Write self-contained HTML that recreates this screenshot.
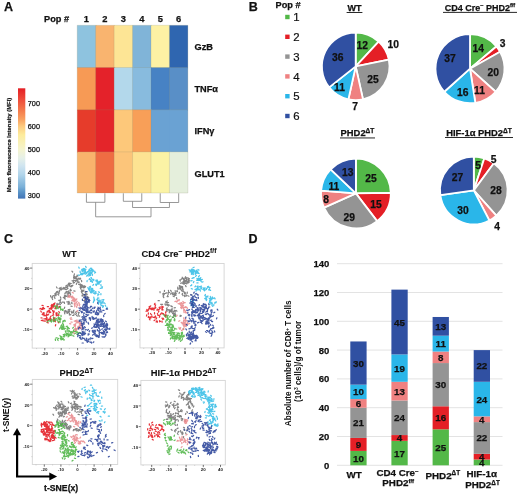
<!DOCTYPE html>
<html><head><meta charset="utf-8"><style>html,body{margin:0;padding:0;background:#fff;width:520px;height:495px;overflow:hidden}svg{display:block;filter:blur(0.35px)}</style></head>
<body><svg width="520" height="495" viewBox="0 0 520 495" font-family="&quot;Liberation Sans&quot;, sans-serif">
<text x="4" y="11" font-size="12.5" font-weight="bold" text-anchor="start" fill="#111"  stroke="#111" stroke-width="0.25">A</text>
<text x="248.8" y="11" font-size="12.5" font-weight="bold" text-anchor="start" fill="#111"  stroke="#111" stroke-width="0.25">B</text>
<text x="4" y="243" font-size="12.5" font-weight="bold" text-anchor="start" fill="#111"  stroke="#111" stroke-width="0.25">C</text>
<text x="248.5" y="243" font-size="12.5" font-weight="bold" text-anchor="start" fill="#111"  stroke="#111" stroke-width="0.25">D</text>
<rect x="77.20" y="25.30" width="19.45" height="43.20" fill="#8ec3df"/>
<rect x="95.65" y="25.30" width="19.45" height="43.20" fill="#f9b46f"/>
<rect x="114.10" y="25.30" width="19.45" height="43.20" fill="#fde595"/>
<rect x="132.55" y="25.30" width="19.45" height="43.20" fill="#80b4d8"/>
<rect x="151.00" y="25.30" width="19.45" height="43.20" fill="#fdf1a4"/>
<rect x="169.45" y="25.30" width="18.45" height="43.20" fill="#2f66b0"/>
<rect x="77.20" y="67.50" width="19.45" height="43.25" fill="#f79a55"/>
<rect x="95.65" y="67.50" width="19.45" height="43.25" fill="#e4222a"/>
<rect x="114.10" y="67.50" width="19.45" height="43.25" fill="#b3d8eb"/>
<rect x="132.55" y="67.50" width="19.45" height="43.25" fill="#88bbde"/>
<rect x="151.00" y="67.50" width="19.45" height="43.25" fill="#4782c4"/>
<rect x="169.45" y="67.50" width="18.45" height="43.25" fill="#598fc7"/>
<rect x="77.20" y="109.75" width="19.45" height="43.15" fill="#e63c2b"/>
<rect x="95.65" y="109.75" width="19.45" height="43.15" fill="#e4252a"/>
<rect x="114.10" y="109.75" width="19.45" height="43.15" fill="#fdc87a"/>
<rect x="132.55" y="109.75" width="19.45" height="43.15" fill="#f89f58"/>
<rect x="151.00" y="109.75" width="19.45" height="43.15" fill="#6aa2d3"/>
<rect x="169.45" y="109.75" width="18.45" height="43.15" fill="#6aa2d3"/>
<rect x="77.20" y="151.90" width="19.45" height="41.10" fill="#f9b36c"/>
<rect x="95.65" y="151.90" width="19.45" height="41.10" fill="#ef6c43"/>
<rect x="114.10" y="151.90" width="19.45" height="41.10" fill="#fcc57a"/>
<rect x="132.55" y="151.90" width="19.45" height="41.10" fill="#fde392"/>
<rect x="151.00" y="151.90" width="19.45" height="41.10" fill="#fbf3a5"/>
<rect x="169.45" y="151.90" width="18.45" height="41.10" fill="#e5efdc"/>
<path d="M77.20 25.3 V193.00 M95.65 25.3 V193.00 M114.10 25.3 V193.00 M132.55 25.3 V193.00 M151.00 25.3 V193.00 M169.45 25.3 V109.75 M169.45 151.90 V193.00 M187.90 25.3 V193.00 M77.2 25.30 H187.90 M77.2 67.50 H187.90 M77.2 109.75 H187.90 M77.2 151.90 H187.90 M77.2 193.00 H187.90" stroke="#8a8a70" stroke-opacity="0.35" stroke-width="0.6" fill="none"/>
<text x="44" y="21.5" font-size="9.2" font-weight="bold" text-anchor="start" fill="#111"  stroke="#111" stroke-width="0.25">Pop #</text>
<text x="86.42" y="22.3" font-size="9.3" font-weight="bold" text-anchor="middle" fill="#111"  stroke="#111" stroke-width="0.25">1</text>
<text x="104.88" y="22.3" font-size="9.3" font-weight="bold" text-anchor="middle" fill="#111"  stroke="#111" stroke-width="0.25">2</text>
<text x="123.33" y="22.3" font-size="9.3" font-weight="bold" text-anchor="middle" fill="#111"  stroke="#111" stroke-width="0.25">3</text>
<text x="141.78" y="22.3" font-size="9.3" font-weight="bold" text-anchor="middle" fill="#111"  stroke="#111" stroke-width="0.25">4</text>
<text x="160.22" y="22.3" font-size="9.3" font-weight="bold" text-anchor="middle" fill="#111"  stroke="#111" stroke-width="0.25">5</text>
<text x="178.68" y="22.3" font-size="9.3" font-weight="bold" text-anchor="middle" fill="#111"  stroke="#111" stroke-width="0.25">6</text>
<text x="194.5" y="49.7" font-size="9.2" font-weight="bold" text-anchor="start" fill="#111"  stroke="#111" stroke-width="0.25">GzB</text>
<text x="194.5" y="91.6" font-size="9.2" font-weight="bold" text-anchor="start" fill="#111"  stroke="#111" stroke-width="0.25">TNFα</text>
<text x="194.5" y="133.8" font-size="9.2" font-weight="bold" text-anchor="start" fill="#111"  stroke="#111" stroke-width="0.25">IFNγ</text>
<text x="194.5" y="176.5" font-size="9.2" font-weight="bold" text-anchor="start" fill="#111"  stroke="#111" stroke-width="0.25">GLUT1</text>
<path d="M86.42 193.30 V202.3 H104.88 V193.30 M123.33 193.30 V201.3 H141.78 V193.30 M160.22 193.30 V202.5 H178.68 V193.30 M132.55 201.3 V207.5 H169.45 V202.5 M95.65 202.3 V216.8 H151.00 V207.5" stroke="#858585" stroke-width="0.85" fill="none"/>
<defs><linearGradient id="cb" x1="0" y1="0" x2="0" y2="1"><stop offset="0" stop-color="#e41e24"/><stop offset="0.1" stop-color="#ee4b3a"/><stop offset="0.2" stop-color="#f47a4c"/><stop offset="0.28" stop-color="#f9a060"/><stop offset="0.345" stop-color="#fdcb80"/><stop offset="0.423" stop-color="#fdec9c"/><stop offset="0.559" stop-color="#f4f4d0"/><stop offset="0.632" stop-color="#e6f0e8"/><stop offset="0.704" stop-color="#cfe4f0"/><stop offset="0.786" stop-color="#b0d4ea"/><stop offset="0.831" stop-color="#98c4e2"/><stop offset="0.895" stop-color="#7ab0d8"/><stop offset="0.94" stop-color="#5a94c8"/><stop offset="1" stop-color="#4274b6"/></linearGradient></defs>
<rect x="18" y="88.3" width="7.3" height="110.3" fill="url(#cb)"/>
<text x="27.8" y="106.20" font-size="7.3" font-weight="normal" text-anchor="start" fill="#111" stroke="#111" stroke-width="0.25">700</text>
<text x="27.8" y="129.15" font-size="7.3" font-weight="normal" text-anchor="start" fill="#111" stroke="#111" stroke-width="0.25">600</text>
<text x="27.8" y="152.10" font-size="7.3" font-weight="normal" text-anchor="start" fill="#111" stroke="#111" stroke-width="0.25">500</text>
<text x="27.8" y="175.05" font-size="7.3" font-weight="normal" text-anchor="start" fill="#111" stroke="#111" stroke-width="0.25">400</text>
<text x="27.8" y="198.00" font-size="7.3" font-weight="normal" text-anchor="start" fill="#111" stroke="#111" stroke-width="0.25">300</text>
<text transform="translate(11.2,192.3) rotate(-90)" font-size="5.9" font-weight="bold" fill="#111" stroke="#111" stroke-width="0.2">Mean fluorescence Intensity (MFI)</text>
<text x="275.5" y="8.2" font-size="9.2" font-weight="bold" text-anchor="start" fill="#111"  stroke="#111" stroke-width="0.25">Pop #</text>
<rect x="285.2" y="14.80" width="4.4" height="4.4" fill="#53b848"/>
<text x="293.2" y="21.10" font-size="11.4" font-weight="normal" text-anchor="start" fill="#111" stroke="#111" stroke-width="0.2">1</text>
<rect x="285.2" y="34.60" width="4.4" height="4.4" fill="#e41f26"/>
<text x="293.2" y="40.90" font-size="11.4" font-weight="normal" text-anchor="start" fill="#111" stroke="#111" stroke-width="0.2">2</text>
<rect x="285.2" y="54.40" width="4.4" height="4.4" fill="#949494"/>
<text x="293.2" y="60.70" font-size="11.4" font-weight="normal" text-anchor="start" fill="#111" stroke="#111" stroke-width="0.2">3</text>
<rect x="285.2" y="74.20" width="4.4" height="4.4" fill="#ef8181"/>
<text x="293.2" y="80.50" font-size="11.4" font-weight="normal" text-anchor="start" fill="#111" stroke="#111" stroke-width="0.2">4</text>
<rect x="285.2" y="94.00" width="4.4" height="4.4" fill="#2ab6e9"/>
<text x="293.2" y="100.30" font-size="11.4" font-weight="normal" text-anchor="start" fill="#111" stroke="#111" stroke-width="0.2">5</text>
<rect x="285.2" y="113.80" width="4.4" height="4.4" fill="#3050a2"/>
<text x="293.2" y="120.10" font-size="11.4" font-weight="normal" text-anchor="start" fill="#111" stroke="#111" stroke-width="0.2">6</text>
<text x="354.5" y="10.8" font-size="9" font-weight="bold" text-anchor="middle" fill="#111"  stroke="#111" stroke-width="0.25">WT</text>
<rect x="346.60" y="12.10" width="15.8" height="0.9" fill="#111"/>
<text x="480" y="10.6" font-size="9" font-weight="bold" text-anchor="middle" fill="#111"  stroke="#111" stroke-width="0.25">CD4 Cre<tspan font-size="5.5" dy="-3.5">–</tspan><tspan dy="3.5"> PHD2</tspan><tspan font-size="5.5" dy="-3.5">f/f</tspan></text>
<rect x="443.00" y="11.90" width="74" height="0.9" fill="#111"/>
<text x="357.5" y="136.2" font-size="9.4" font-weight="bold" text-anchor="middle" fill="#111"  stroke="#111" stroke-width="0.25">PHD2<tspan font-size="6.6" dy="-3.1">ΔT</tspan></text>
<rect x="340.00" y="137.50" width="35" height="0.9" fill="#111"/>
<text x="479" y="135.7" font-size="9.4" font-weight="bold" text-anchor="middle" fill="#111"  stroke="#111" stroke-width="0.25">HIF-1α PHD2<tspan font-size="6.6" dy="-3.1">ΔT</tspan></text>
<rect x="445.00" y="137.00" width="68" height="0.9" fill="#111"/>
<path d="M355.70 66.40 L355.70 32.60 A33.8 33.8 0 0 1 378.65 41.59 Z" fill="#53b848" stroke="#fff" stroke-width="1.8" stroke-linejoin="round"/>
<path d="M355.70 66.40 L378.65 41.59 A33.8 33.8 0 0 1 388.81 59.61 Z" fill="#e41f26" stroke="#fff" stroke-width="1.8" stroke-linejoin="round"/>
<path d="M355.70 66.40 L388.81 59.61 A33.8 33.8 0 0 1 363.00 99.40 Z" fill="#949494" stroke="#fff" stroke-width="1.8" stroke-linejoin="round"/>
<path d="M355.70 66.40 L363.00 99.40 A33.8 33.8 0 0 1 348.40 99.40 Z" fill="#ef8181" stroke="#fff" stroke-width="1.8" stroke-linejoin="round"/>
<path d="M355.70 66.40 L348.40 99.40 A33.8 33.8 0 0 1 329.18 87.36 Z" fill="#2ab6e9" stroke="#fff" stroke-width="1.8" stroke-linejoin="round"/>
<path d="M355.70 66.40 L329.18 87.36 A33.8 33.8 0 0 1 355.70 32.60 Z" fill="#3050a2" stroke="#fff" stroke-width="1.8" stroke-linejoin="round"/>
<text x="362.2" y="49.3" font-size="10.3" font-weight="bold" text-anchor="middle" fill="#111" stroke="#111" stroke-width="0.25">12</text>
<text x="393.2" y="47.8" font-size="10.3" font-weight="bold" text-anchor="middle" fill="#111" stroke="#111" stroke-width="0.25">10</text>
<text x="373" y="82.8" font-size="10.3" font-weight="bold" text-anchor="middle" fill="#111" stroke="#111" stroke-width="0.25">25</text>
<text x="355" y="110.1" font-size="10.3" font-weight="bold" text-anchor="middle" fill="#111" stroke="#111" stroke-width="0.25">7</text>
<text x="339.5" y="91.39999999999999" font-size="10.3" font-weight="bold" text-anchor="middle" fill="#111" stroke="#111" stroke-width="0.25">11</text>
<text x="337.7" y="61.3" font-size="10.3" font-weight="bold" text-anchor="middle" fill="#111" stroke="#111" stroke-width="0.25">36</text>
<path d="M470.00 68.70 L470.00 34.20 A34.5 34.5 0 0 1 496.39 46.48 Z" fill="#53b848" stroke="#fff" stroke-width="1.8" stroke-linejoin="round"/>
<path d="M470.00 68.70 L496.39 46.48 A34.5 34.5 0 0 1 500.06 51.76 Z" fill="#e41f26" stroke="#fff" stroke-width="1.8" stroke-linejoin="round"/>
<path d="M470.00 68.70 L500.06 51.76 A34.5 34.5 0 0 1 495.69 91.73 Z" fill="#949494" stroke="#fff" stroke-width="1.8" stroke-linejoin="round"/>
<path d="M470.00 68.70 L495.69 91.73 A34.5 34.5 0 0 1 475.34 102.78 Z" fill="#ef8181" stroke="#fff" stroke-width="1.8" stroke-linejoin="round"/>
<path d="M470.00 68.70 L475.34 102.78 A34.5 34.5 0 0 1 444.31 91.73 Z" fill="#2ab6e9" stroke="#fff" stroke-width="1.8" stroke-linejoin="round"/>
<path d="M470.00 68.70 L444.31 91.73 A34.5 34.5 0 0 1 470.00 34.20 Z" fill="#3050a2" stroke="#fff" stroke-width="1.8" stroke-linejoin="round"/>
<text x="478.2" y="51.9" font-size="10.3" font-weight="bold" text-anchor="middle" fill="#111" stroke="#111" stroke-width="0.25">14</text>
<text x="502.7" y="46.8" font-size="10.3" font-weight="bold" text-anchor="middle" fill="#111" stroke="#111" stroke-width="0.25">3</text>
<text x="493.2" y="75.89999999999999" font-size="10.3" font-weight="bold" text-anchor="middle" fill="#111" stroke="#111" stroke-width="0.25">20</text>
<text x="479.5" y="94.0" font-size="10.3" font-weight="bold" text-anchor="middle" fill="#111" stroke="#111" stroke-width="0.25">11</text>
<text x="462.7" y="95.7" font-size="10.3" font-weight="bold" text-anchor="middle" fill="#111" stroke="#111" stroke-width="0.25">16</text>
<text x="449.9" y="62.3" font-size="10.3" font-weight="bold" text-anchor="middle" fill="#111" stroke="#111" stroke-width="0.25">37</text>
<path d="M355.90 193.40 L355.90 158.50 A34.9 34.9 0 0 1 390.80 192.86 Z" fill="#53b848" stroke="#fff" stroke-width="1.8" stroke-linejoin="round"/>
<path d="M355.90 193.40 L390.80 192.86 A34.9 34.9 0 0 1 377.11 221.12 Z" fill="#e41f26" stroke="#fff" stroke-width="1.8" stroke-linejoin="round"/>
<path d="M355.90 193.40 L377.11 221.12 A34.9 34.9 0 0 1 324.03 207.63 Z" fill="#949494" stroke="#fff" stroke-width="1.8" stroke-linejoin="round"/>
<path d="M355.90 193.40 L324.03 207.63 A34.9 34.9 0 0 1 321.11 190.69 Z" fill="#ef8181" stroke="#fff" stroke-width="1.8" stroke-linejoin="round"/>
<path d="M355.90 193.40 L321.11 190.69 A34.9 34.9 0 0 1 330.65 169.30 Z" fill="#2ab6e9" stroke="#fff" stroke-width="1.8" stroke-linejoin="round"/>
<path d="M355.90 193.40 L330.65 169.30 A34.9 34.9 0 0 1 355.90 158.50 Z" fill="#3050a2" stroke="#fff" stroke-width="1.8" stroke-linejoin="round"/>
<text x="371" y="181.9" font-size="10.3" font-weight="bold" text-anchor="middle" fill="#111" stroke="#111" stroke-width="0.25">25</text>
<text x="376" y="207.5" font-size="10.3" font-weight="bold" text-anchor="middle" fill="#111" stroke="#111" stroke-width="0.25">15</text>
<text x="349.3" y="220.5" font-size="10.3" font-weight="bold" text-anchor="middle" fill="#111" stroke="#111" stroke-width="0.25">29</text>
<text x="326" y="202.9" font-size="10.3" font-weight="bold" text-anchor="middle" fill="#111" stroke="#111" stroke-width="0.25">8</text>
<text x="333.9" y="190.10000000000002" font-size="10.3" font-weight="bold" text-anchor="middle" fill="#111" stroke="#111" stroke-width="0.25">11</text>
<text x="347.8" y="175.8" font-size="10.3" font-weight="bold" text-anchor="middle" fill="#111" stroke="#111" stroke-width="0.25">13</text>
<path d="M473.80 190.40 L473.80 156.60 A33.8 33.8 0 0 1 484.35 158.29 Z" fill="#53b848" stroke="#fff" stroke-width="1.8" stroke-linejoin="round"/>
<path d="M473.80 190.40 L484.35 158.29 A33.8 33.8 0 0 1 493.84 163.18 Z" fill="#e41f26" stroke="#fff" stroke-width="1.8" stroke-linejoin="round"/>
<path d="M473.80 190.40 L493.84 163.18 A33.8 33.8 0 0 1 496.34 215.59 Z" fill="#949494" stroke="#fff" stroke-width="1.8" stroke-linejoin="round"/>
<path d="M473.80 190.40 L496.34 215.59 A33.8 33.8 0 0 1 489.29 220.44 Z" fill="#ef8181" stroke="#fff" stroke-width="1.8" stroke-linejoin="round"/>
<path d="M473.80 190.40 L489.29 220.44 A33.8 33.8 0 0 1 440.34 195.21 Z" fill="#2ab6e9" stroke="#fff" stroke-width="1.8" stroke-linejoin="round"/>
<path d="M473.80 190.40 L440.34 195.21 A33.8 33.8 0 0 1 473.80 156.60 Z" fill="#3050a2" stroke="#fff" stroke-width="1.8" stroke-linejoin="round"/>
<text x="478.1" y="169.20000000000002" font-size="10.3" font-weight="bold" text-anchor="middle" fill="#111" stroke="#111" stroke-width="0.25">5</text>
<text x="493.5" y="163.20000000000002" font-size="10.3" font-weight="bold" text-anchor="middle" fill="#111" stroke="#111" stroke-width="0.25">5</text>
<text x="496.1" y="194.10000000000002" font-size="10.3" font-weight="bold" text-anchor="middle" fill="#111" stroke="#111" stroke-width="0.25">28</text>
<text x="497" y="230.10000000000002" font-size="10.3" font-weight="bold" text-anchor="middle" fill="#111" stroke="#111" stroke-width="0.25">4</text>
<text x="463" y="213.8" font-size="10.3" font-weight="bold" text-anchor="middle" fill="#111" stroke="#111" stroke-width="0.25">30</text>
<text x="457.4" y="181.20000000000002" font-size="10.3" font-weight="bold" text-anchor="middle" fill="#111" stroke="#111" stroke-width="0.25">27</text>
<rect x="32.2" y="263.4" width="84.10" height="84.70" fill="none" stroke="#d4d4d4" stroke-width="0.9"/>
<path d="M30.000000000000004 268.10 H32.2" stroke="#444" stroke-width="0.7"/>
<text x="29.40" y="269.70" font-size="4.4" font-weight="bold" text-anchor="end" fill="#222" >40</text>
<path d="M30.000000000000004 288.60 H32.2" stroke="#444" stroke-width="0.7"/>
<text x="29.40" y="290.20" font-size="4.4" font-weight="bold" text-anchor="end" fill="#222" >20</text>
<path d="M30.000000000000004 309.10 H32.2" stroke="#444" stroke-width="0.7"/>
<text x="29.40" y="310.70" font-size="4.4" font-weight="bold" text-anchor="end" fill="#222" >0</text>
<path d="M30.000000000000004 329.60 H32.2" stroke="#444" stroke-width="0.7"/>
<text x="29.40" y="331.20" font-size="4.4" font-weight="bold" text-anchor="end" fill="#222" >-10</text>
<path d="M31.200000000000003 268.10 H32.2 M31.200000000000003 278.35 H32.2 M31.200000000000003 288.60 H32.2 M31.200000000000003 298.85 H32.2 M31.200000000000003 309.10 H32.2 M31.200000000000003 319.35 H32.2 M31.200000000000003 329.60 H32.2 M31.200000000000003 339.85 H32.2 M36.60 348.1 V349.1 M44.80 348.1 V349.1 M53.00 348.1 V349.1 M61.20 348.1 V349.1 M69.40 348.1 V349.1 M77.60 348.1 V349.1 M85.80 348.1 V349.1 M94.00 348.1 V349.1 M102.20 348.1 V349.1 M110.40 348.1 V349.1" stroke="#aaa" stroke-width="0.5"/>
<path d="M44.80 348.1 V350.3" stroke="#444" stroke-width="0.7"/>
<text x="44.80" y="354.50" font-size="4.4" font-weight="bold" text-anchor="middle" fill="#222" >-20</text>
<path d="M61.20 348.1 V350.3" stroke="#444" stroke-width="0.7"/>
<text x="61.20" y="354.50" font-size="4.4" font-weight="bold" text-anchor="middle" fill="#222" >-10</text>
<path d="M77.60 348.1 V350.3" stroke="#444" stroke-width="0.7"/>
<text x="77.60" y="354.50" font-size="4.4" font-weight="bold" text-anchor="middle" fill="#222" >0</text>
<path d="M94.00 348.1 V350.3" stroke="#444" stroke-width="0.7"/>
<text x="94.00" y="354.50" font-size="4.4" font-weight="bold" text-anchor="middle" fill="#222" >20</text>
<path d="M110.40 348.1 V350.3" stroke="#444" stroke-width="0.7"/>
<text x="110.40" y="354.50" font-size="4.4" font-weight="bold" text-anchor="middle" fill="#222" >40</text>
<rect x="140" y="263.5" width="84.10" height="84.40" fill="none" stroke="#d4d4d4" stroke-width="0.9"/>
<path d="M137.8 268.20 H140" stroke="#444" stroke-width="0.7"/>
<text x="137.20" y="269.80" font-size="4.4" font-weight="bold" text-anchor="end" fill="#222" >40</text>
<path d="M137.8 288.70 H140" stroke="#444" stroke-width="0.7"/>
<text x="137.20" y="290.30" font-size="4.4" font-weight="bold" text-anchor="end" fill="#222" >20</text>
<path d="M137.8 309.20 H140" stroke="#444" stroke-width="0.7"/>
<text x="137.20" y="310.80" font-size="4.4" font-weight="bold" text-anchor="end" fill="#222" >0</text>
<path d="M137.8 329.70 H140" stroke="#444" stroke-width="0.7"/>
<text x="137.20" y="331.30" font-size="4.4" font-weight="bold" text-anchor="end" fill="#222" >-10</text>
<path d="M139 268.20 H140 M139 278.45 H140 M139 288.70 H140 M139 298.95 H140 M139 309.20 H140 M139 319.45 H140 M139 329.70 H140 M139 339.95 H140 M143.75 347.9 V348.9 M152.00 347.9 V348.9 M160.25 347.9 V348.9 M168.50 347.9 V348.9 M176.75 347.9 V348.9 M185.00 347.9 V348.9 M193.25 347.9 V348.9 M201.50 347.9 V348.9 M209.75 347.9 V348.9 M218.00 347.9 V348.9" stroke="#aaa" stroke-width="0.5"/>
<path d="M152.00 347.9 V350.09999999999997" stroke="#444" stroke-width="0.7"/>
<text x="152.00" y="354.30" font-size="4.4" font-weight="bold" text-anchor="middle" fill="#222" >-20</text>
<path d="M168.50 347.9 V350.09999999999997" stroke="#444" stroke-width="0.7"/>
<text x="168.50" y="354.30" font-size="4.4" font-weight="bold" text-anchor="middle" fill="#222" >-10</text>
<path d="M185.00 347.9 V350.09999999999997" stroke="#444" stroke-width="0.7"/>
<text x="185.00" y="354.30" font-size="4.4" font-weight="bold" text-anchor="middle" fill="#222" >0</text>
<path d="M201.50 347.9 V350.09999999999997" stroke="#444" stroke-width="0.7"/>
<text x="201.50" y="354.30" font-size="4.4" font-weight="bold" text-anchor="middle" fill="#222" >20</text>
<path d="M218.00 347.9 V350.09999999999997" stroke="#444" stroke-width="0.7"/>
<text x="218.00" y="354.30" font-size="4.4" font-weight="bold" text-anchor="middle" fill="#222" >40</text>
<rect x="32.3" y="379.4" width="85.40" height="85.10" fill="none" stroke="#d4d4d4" stroke-width="0.9"/>
<path d="M30.099999999999998 384.20 H32.3" stroke="#444" stroke-width="0.7"/>
<text x="29.50" y="385.80" font-size="4.4" font-weight="bold" text-anchor="end" fill="#222" >40</text>
<path d="M30.099999999999998 404.90 H32.3" stroke="#444" stroke-width="0.7"/>
<text x="29.50" y="406.50" font-size="4.4" font-weight="bold" text-anchor="end" fill="#222" >20</text>
<path d="M30.099999999999998 425.60 H32.3" stroke="#444" stroke-width="0.7"/>
<text x="29.50" y="427.20" font-size="4.4" font-weight="bold" text-anchor="end" fill="#222" >0</text>
<path d="M30.099999999999998 446.30 H32.3" stroke="#444" stroke-width="0.7"/>
<text x="29.50" y="447.90" font-size="4.4" font-weight="bold" text-anchor="end" fill="#222" >-10</text>
<path d="M31.299999999999997 384.20 H32.3 M31.299999999999997 394.55 H32.3 M31.299999999999997 404.90 H32.3 M31.299999999999997 415.25 H32.3 M31.299999999999997 425.60 H32.3 M31.299999999999997 435.95 H32.3 M31.299999999999997 446.30 H32.3 M31.299999999999997 456.65 H32.3 M36.00 464.5 V465.5 M44.30 464.5 V465.5 M52.60 464.5 V465.5 M60.90 464.5 V465.5 M69.20 464.5 V465.5 M77.50 464.5 V465.5 M85.80 464.5 V465.5 M94.10 464.5 V465.5 M102.40 464.5 V465.5 M110.70 464.5 V465.5" stroke="#aaa" stroke-width="0.5"/>
<path d="M44.30 464.5 V466.7" stroke="#444" stroke-width="0.7"/>
<text x="44.30" y="470.90" font-size="4.4" font-weight="bold" text-anchor="middle" fill="#222" >-20</text>
<path d="M60.90 464.5 V466.7" stroke="#444" stroke-width="0.7"/>
<text x="60.90" y="470.90" font-size="4.4" font-weight="bold" text-anchor="middle" fill="#222" >-10</text>
<path d="M77.50 464.5 V466.7" stroke="#444" stroke-width="0.7"/>
<text x="77.50" y="470.90" font-size="4.4" font-weight="bold" text-anchor="middle" fill="#222" >0</text>
<path d="M94.10 464.5 V466.7" stroke="#444" stroke-width="0.7"/>
<text x="94.10" y="470.90" font-size="4.4" font-weight="bold" text-anchor="middle" fill="#222" >20</text>
<path d="M110.70 464.5 V466.7" stroke="#444" stroke-width="0.7"/>
<text x="110.70" y="470.90" font-size="4.4" font-weight="bold" text-anchor="middle" fill="#222" >40</text>
<rect x="140.9" y="380.4" width="84.40" height="84.50" fill="none" stroke="#d4d4d4" stroke-width="0.9"/>
<path d="M138.70000000000002 385.20 H140.9" stroke="#444" stroke-width="0.7"/>
<text x="138.10" y="386.80" font-size="4.4" font-weight="bold" text-anchor="end" fill="#222" >40</text>
<path d="M138.70000000000002 405.90 H140.9" stroke="#444" stroke-width="0.7"/>
<text x="138.10" y="407.50" font-size="4.4" font-weight="bold" text-anchor="end" fill="#222" >20</text>
<path d="M138.70000000000002 426.60 H140.9" stroke="#444" stroke-width="0.7"/>
<text x="138.10" y="428.20" font-size="4.4" font-weight="bold" text-anchor="end" fill="#222" >0</text>
<path d="M138.70000000000002 447.30 H140.9" stroke="#444" stroke-width="0.7"/>
<text x="138.10" y="448.90" font-size="4.4" font-weight="bold" text-anchor="end" fill="#222" >-10</text>
<path d="M139.9 385.20 H140.9 M139.9 395.55 H140.9 M139.9 405.90 H140.9 M139.9 416.25 H140.9 M139.9 426.60 H140.9 M139.9 436.95 H140.9 M139.9 447.30 H140.9 M139.9 457.65 H140.9 M143.10 464.9 V465.9 M151.70 464.9 V465.9 M160.30 464.9 V465.9 M168.90 464.9 V465.9 M177.50 464.9 V465.9 M186.10 464.9 V465.9 M194.70 464.9 V465.9 M203.30 464.9 V465.9 M211.90 464.9 V465.9 M220.50 464.9 V465.9" stroke="#aaa" stroke-width="0.5"/>
<path d="M151.70 464.9 V467.09999999999997" stroke="#444" stroke-width="0.7"/>
<text x="151.70" y="471.30" font-size="4.4" font-weight="bold" text-anchor="middle" fill="#222" >-20</text>
<path d="M168.90 464.9 V467.09999999999997" stroke="#444" stroke-width="0.7"/>
<text x="168.90" y="471.30" font-size="4.4" font-weight="bold" text-anchor="middle" fill="#222" >-10</text>
<path d="M186.10 464.9 V467.09999999999997" stroke="#444" stroke-width="0.7"/>
<text x="186.10" y="471.30" font-size="4.4" font-weight="bold" text-anchor="middle" fill="#222" >0</text>
<path d="M203.30 464.9 V467.09999999999997" stroke="#444" stroke-width="0.7"/>
<text x="203.30" y="471.30" font-size="4.4" font-weight="bold" text-anchor="middle" fill="#222" >20</text>
<path d="M220.50 464.9 V467.09999999999997" stroke="#444" stroke-width="0.7"/>
<text x="220.50" y="471.30" font-size="4.4" font-weight="bold" text-anchor="middle" fill="#222" >40</text>
<text x="69.4" y="256.8" font-size="9.2" font-weight="bold" text-anchor="middle" fill="#111" stroke="#111" stroke-width="0.1">WT</text>
<text x="179" y="256.9" font-size="9.4" font-weight="bold" text-anchor="middle" fill="#111" stroke="#111" stroke-width="0.1">CD4 Cre<tspan font-size="6.8" dy="-3.7">–</tspan><tspan dy="3.7"> PHD2</tspan><tspan font-size="6.8" dy="-3.7">f/f</tspan></text>
<text x="76.4" y="375.6" font-size="9.4" font-weight="bold" text-anchor="middle" fill="#111" stroke="#111" stroke-width="0.1">PHD2<tspan font-size="6.6" dy="-3.1">ΔT</tspan></text>
<text x="183.6" y="375.6" font-size="9.4" font-weight="bold" text-anchor="middle" fill="#111" stroke="#111" stroke-width="0.1">HIF-1α PHD2<tspan font-size="6.6" dy="-3.1">ΔT</tspan></text>
<path d="M17.1 477 V434" stroke="#000" stroke-width="2.2" fill="none"/>
<path d="M12.9 435.3 L17.1 428 L21.1 435.3 Z" fill="#000"/>
<path d="M16 476.5 H50" stroke="#000" stroke-width="2.2" fill="none"/>
<path d="M49.3 472.5 L57.1 476.5 L49.3 480.5 Z" fill="#000"/>
<text transform="translate(9.4,432) rotate(-90)" font-size="8.7" font-weight="bold" fill="#111">t-SNE(y)</text>
<text x="44" y="491.4" font-size="8.7" font-weight="bold" text-anchor="start" fill="#111"  stroke="#111" stroke-width="0.25">t-SNE(x)</text>
<text x="329.3" y="468.80" font-size="9.5" font-weight="bold" text-anchor="end" fill="#111"  stroke="#111" stroke-width="0.25">0</text>
<text x="329.3" y="440.00" font-size="9.5" font-weight="bold" text-anchor="end" fill="#111"  stroke="#111" stroke-width="0.25">20</text>
<text x="329.3" y="411.20" font-size="9.5" font-weight="bold" text-anchor="end" fill="#111"  stroke="#111" stroke-width="0.25">40</text>
<text x="329.3" y="382.40" font-size="9.5" font-weight="bold" text-anchor="end" fill="#111"  stroke="#111" stroke-width="0.25">60</text>
<text x="329.3" y="353.60" font-size="9.5" font-weight="bold" text-anchor="end" fill="#111"  stroke="#111" stroke-width="0.25">80</text>
<text x="329.3" y="324.80" font-size="9.5" font-weight="bold" text-anchor="end" fill="#111"  stroke="#111" stroke-width="0.25">100</text>
<text x="329.3" y="296.00" font-size="9.5" font-weight="bold" text-anchor="end" fill="#111"  stroke="#111" stroke-width="0.25">120</text>
<text x="329.3" y="267.20" font-size="9.5" font-weight="bold" text-anchor="end" fill="#111"  stroke="#111" stroke-width="0.25">140</text>
<path d="M337 465.30 H502.5 M337 436.50 H502.5 M337 407.70 H502.5 M337 378.90 H502.5 M337 350.10 H502.5 M337 321.30 H502.5 M337 292.50 H502.5 M337 263.70 H502.5" stroke="#e0e0e0" stroke-width="0.9"/>
<rect x="350.3" y="450.90" width="16.3" height="14.40" fill="#53b848"/>
<rect x="350.3" y="437.94" width="16.3" height="12.96" fill="#e41f26"/>
<rect x="350.3" y="407.70" width="16.3" height="30.24" fill="#949494"/>
<rect x="350.3" y="399.06" width="16.3" height="8.64" fill="#ef8181"/>
<rect x="350.3" y="384.66" width="16.3" height="14.40" fill="#2ab6e9"/>
<rect x="350.3" y="341.46" width="16.3" height="43.20" fill="#3050a2"/>
<text x="358.45" y="461.60" font-size="9.8" font-weight="bold" text-anchor="middle" fill="#111"  stroke="#111" stroke-width="0.25">10</text>
<text x="358.45" y="447.92" font-size="9.8" font-weight="bold" text-anchor="middle" fill="#111"  stroke="#111" stroke-width="0.25">9</text>
<text x="358.45" y="426.32" font-size="9.8" font-weight="bold" text-anchor="middle" fill="#111"  stroke="#111" stroke-width="0.25">21</text>
<text x="358.45" y="406.88" font-size="9.8" font-weight="bold" text-anchor="middle" fill="#111"  stroke="#111" stroke-width="0.25">6</text>
<text x="358.45" y="395.36" font-size="9.8" font-weight="bold" text-anchor="middle" fill="#111"  stroke="#111" stroke-width="0.25">10</text>
<text x="358.45" y="366.56" font-size="9.8" font-weight="bold" text-anchor="middle" fill="#111"  stroke="#111" stroke-width="0.25">30</text>
<rect x="391.4" y="440.82" width="16.3" height="24.48" fill="#53b848"/>
<rect x="391.4" y="435.06" width="16.3" height="5.76" fill="#e41f26"/>
<rect x="391.4" y="400.50" width="16.3" height="34.56" fill="#949494"/>
<rect x="391.4" y="381.78" width="16.3" height="18.72" fill="#ef8181"/>
<rect x="391.4" y="354.42" width="16.3" height="27.36" fill="#2ab6e9"/>
<rect x="391.4" y="289.62" width="16.3" height="64.80" fill="#3050a2"/>
<text x="399.55" y="456.56" font-size="9.8" font-weight="bold" text-anchor="middle" fill="#111"  stroke="#111" stroke-width="0.25">17</text>
<text x="399.55" y="441.44" font-size="9.8" font-weight="bold" text-anchor="middle" fill="#111"  stroke="#111" stroke-width="0.25">4</text>
<text x="399.55" y="421.28" font-size="9.8" font-weight="bold" text-anchor="middle" fill="#111"  stroke="#111" stroke-width="0.25">24</text>
<text x="399.55" y="394.64" font-size="9.8" font-weight="bold" text-anchor="middle" fill="#111"  stroke="#111" stroke-width="0.25">13</text>
<text x="399.55" y="371.60" font-size="9.8" font-weight="bold" text-anchor="middle" fill="#111"  stroke="#111" stroke-width="0.25">19</text>
<text x="399.55" y="325.52" font-size="9.8" font-weight="bold" text-anchor="middle" fill="#111"  stroke="#111" stroke-width="0.25">45</text>
<rect x="432.6" y="429.30" width="16.3" height="36.00" fill="#53b848"/>
<rect x="432.6" y="406.26" width="16.3" height="23.04" fill="#e41f26"/>
<rect x="432.6" y="363.06" width="16.3" height="43.20" fill="#949494"/>
<rect x="432.6" y="351.54" width="16.3" height="11.52" fill="#ef8181"/>
<rect x="432.6" y="335.70" width="16.3" height="15.84" fill="#2ab6e9"/>
<rect x="432.6" y="316.98" width="16.3" height="18.72" fill="#3050a2"/>
<text x="440.75" y="450.80" font-size="9.8" font-weight="bold" text-anchor="middle" fill="#111"  stroke="#111" stroke-width="0.25">25</text>
<text x="440.75" y="421.28" font-size="9.8" font-weight="bold" text-anchor="middle" fill="#111"  stroke="#111" stroke-width="0.25">16</text>
<text x="440.75" y="388.16" font-size="9.8" font-weight="bold" text-anchor="middle" fill="#111"  stroke="#111" stroke-width="0.25">30</text>
<text x="440.75" y="360.80" font-size="9.8" font-weight="bold" text-anchor="middle" fill="#111"  stroke="#111" stroke-width="0.25">8</text>
<text x="440.75" y="347.12" font-size="9.8" font-weight="bold" text-anchor="middle" fill="#111"  stroke="#111" stroke-width="0.25">11</text>
<text x="440.75" y="329.84" font-size="9.8" font-weight="bold" text-anchor="middle" fill="#111"  stroke="#111" stroke-width="0.25">13</text>
<rect x="473.7" y="459.54" width="16.3" height="5.76" fill="#53b848"/>
<rect x="473.7" y="453.78" width="16.3" height="5.76" fill="#e41f26"/>
<rect x="473.7" y="422.10" width="16.3" height="31.68" fill="#949494"/>
<rect x="473.7" y="416.34" width="16.3" height="5.76" fill="#ef8181"/>
<rect x="473.7" y="381.78" width="16.3" height="34.56" fill="#2ab6e9"/>
<rect x="473.7" y="350.10" width="16.3" height="31.68" fill="#3050a2"/>
<text x="481.85" y="465.92" font-size="9.8" font-weight="bold" text-anchor="middle" fill="#111"  stroke="#111" stroke-width="0.25">4</text>
<text x="481.85" y="460.16" font-size="9.8" font-weight="bold" text-anchor="middle" fill="#111"  stroke="#111" stroke-width="0.25">4</text>
<text x="481.85" y="441.44" font-size="9.8" font-weight="bold" text-anchor="middle" fill="#111"  stroke="#111" stroke-width="0.25">22</text>
<text x="481.85" y="422.72" font-size="9.8" font-weight="bold" text-anchor="middle" fill="#111"  stroke="#111" stroke-width="0.25">4</text>
<text x="481.85" y="402.56" font-size="9.8" font-weight="bold" text-anchor="middle" fill="#111"  stroke="#111" stroke-width="0.25">24</text>
<text x="481.85" y="369.44" font-size="9.8" font-weight="bold" text-anchor="middle" fill="#111"  stroke="#111" stroke-width="0.25">22</text>
<text x="354.2" y="477.9" font-size="9.8" font-weight="bold" text-anchor="middle" fill="#111"  stroke="#111" stroke-width="0.25">WT</text>
<text x="397.4" y="476.3" font-size="9.8" font-weight="bold" text-anchor="middle" fill="#111"  stroke="#111" stroke-width="0.25">CD4 Cre<tspan font-size="6" dy="-3.8">–</tspan></text>
<text x="398.2" y="486.4" font-size="9.8" font-weight="bold" text-anchor="middle" fill="#111"  stroke="#111" stroke-width="0.25">PHD2<tspan font-size="6" dy="-3.8">f/f</tspan></text>
<text x="442.8" y="478.6" font-size="9.8" font-weight="bold" text-anchor="middle" fill="#111"  stroke="#111" stroke-width="0.25">PHD2<tspan font-size="6.4" dy="-3.2">ΔT</tspan></text>
<text x="481.7" y="477" font-size="9.8" font-weight="bold" text-anchor="middle" fill="#111"  stroke="#111" stroke-width="0.25">HIF-1α</text>
<text x="482.5" y="487.9" font-size="9.8" font-weight="bold" text-anchor="middle" fill="#111"  stroke="#111" stroke-width="0.25">PHD2<tspan font-size="6.4" dy="-3.2">ΔT</tspan></text>
<text transform="translate(291.0,426.2) rotate(-90)" font-size="8.15" font-weight="bold" fill="#111">Absolute number of CD8<tspan font-size="5" dy="-2.5">+</tspan><tspan dy="2.5"> T cells</tspan></text>
<text transform="translate(300.8,402.0) rotate(-90)" font-size="8.25" font-weight="bold" fill="#111">(10<tspan font-size="5" dy="-2.5">3</tspan><tspan dy="2.5"> cells)/g of tumor</tspan></text>
<path d="M77.0 275.2l0.8 0.9M76.5 280.3l-0.7 1.0M84.0 290.1l-1.1 0.5M74.4 273.8l-0.2 1.2M85.6 294.0l1.1 0.6M84.9 297.0l-1.0 0.6M85.8 297.6l0.1 1.2M83.7 286.8l0.1 1.2M76.4 279.9l1.2 0.2M75.6 280.1l-0.0 1.2M78.2 281.0l-0.8 0.9M80.9 285.7l0.3 1.2M82.2 295.0l0.5 1.1M80.6 278.4l-0.6 1.1M73.4 280.2l1.2 0.1M85.5 291.5l-0.0 1.2M84.7 294.7l-1.2 0.2M85.6 286.5l-0.7 1.0M81.2 286.3l0.4 1.1M78.7 278.2l-0.7 1.0M74.2 277.4l-0.4 1.1M81.7 292.7l1.0 0.7M81.7 284.7l1.0 0.7M80.4 284.0l-1.1 0.4M71.9 271.1l0.8 0.9M81.4 290.0l1.2 0.3M85.2 286.4l-1.0 0.6M83.0 286.4l-0.1 1.2M83.8 286.1l0.5 1.1M80.9 287.5l-0.0 1.2M89.4 299.4l-0.8 0.9M86.3 293.7l1.0 0.6M82.6 294.8l-0.6 1.1M84.4 285.8l-0.7 0.9M83.7 290.4l-1.0 0.7M80.1 287.4l0.8 0.9M80.7 285.7l-0.4 1.1M81.9 285.7l0.9 0.8M73.8 276.5l-0.2 1.2M84.9 291.9l1.0 0.6M79.9 278.2l-0.9 0.7M75.4 276.9l-1.1 0.5M83.8 294.4l0.6 1.0M82.3 290.5l0.9 0.8M75.8 278.3l-1.2 0.1M78.2 278.8l-0.7 1.0M79.3 282.1l-1.1 0.6M78.6 284.4l1.2 0.1M77.4 276.1l-1.1 0.4M75.0 277.1l-0.5 1.1M73.8 275.5l0.7 1.0M85.2 294.7l0.3 1.2M82.8 291.1l-0.9 0.8M87.2 297.8l-0.9 0.7M76.0 278.2l1.0 0.7M81.8 290.6l-0.5 1.1M72.1 280.7l1.0 0.6M84.6 300.6l-1.2 0.1M81.5 280.4l0.2 1.2M81.1 284.8l-1.2 0.3M88.8 297.8l-0.8 0.9M85.2 298.8l-0.4 1.1M87.4 296.3l0.8 0.9M80.7 287.7l-0.1 1.2M75.8 277.6l1.1 0.5M71.3 285.6l1.1 0.5M66.5 285.3l-0.8 0.9M54.8 293.8l0.5 1.1M68.0 288.3l-0.9 0.8M55.5 293.3l0.9 0.8M61.1 287.3l-0.8 0.9M68.6 284.2l-0.8 0.9M63.8 287.5l0.7 1.0M58.0 292.1l1.1 0.4M54.6 297.4l0.4 1.1M61.1 287.7l0.0 1.2M65.1 289.2l1.1 0.4M62.9 288.4l1.0 0.7M70.1 283.3l1.2 0.2M76.7 283.2l-0.4 1.1M57.6 291.4l-1.1 0.4M59.8 288.0l0.9 0.8M60.4 289.7l1.2 0.1M70.2 283.6l-0.7 1.0M53.2 295.7l-1.0 0.7M57.1 292.6l-1.2 0.1M59.7 290.7l-0.4 1.1M55.5 294.5l0.6 1.1M52.7 297.1l-1.0 0.6M70.2 286.5l1.1 0.4M73.8 281.9l-0.7 1.0M53.8 295.7l1.1 0.4M67.7 284.8l0.4 1.1M59.4 290.0l0.0 1.2M52.2 298.4l0.4 1.1M63.1 287.9l1.0 0.6M57.8 294.2l0.9 0.8M72.9 285.2l-1.0 0.6M50.6 295.6l0.1 1.2M59.0 292.1l-0.3 1.2M66.8 286.2l0.9 0.7M70.0 284.9l-0.8 0.9M56.5 287.0l0.6 1.0M64.9 287.7l-0.3 1.1M69.6 283.1l-1.2 0.3M67.0 287.6l-1.2 0.0M59.1 288.5l1.2 0.2M74.6 282.4l-1.0 0.7M62.5 288.9l-1.1 0.5M58.5 292.5l0.6 1.0M64.8 296.1l0.4 1.1M64.7 296.3l-0.3 1.2M59.8 306.9l-1.2 0.3M57.9 303.4l0.4 1.1M67.9 291.7l-1.1 0.4M68.8 293.6l-0.9 0.8M59.3 304.0l1.1 0.6M60.3 300.4l-1.2 0.3M58.7 300.3l1.2 0.1M68.2 293.2l1.1 0.5M60.8 299.1l-0.6 1.0M73.8 290.9l1.2 0.2M60.4 296.9l0.4 1.1M63.3 297.4l1.1 0.5M70.5 293.9l0.1 1.2M65.6 295.7l-1.1 0.6M67.7 295.8l-1.1 0.3M68.4 292.6l1.2 0.1M64.4 295.1l1.2 0.2M71.3 290.4l-1.1 0.6M59.2 300.6l1.2 0.2M60.6 302.4l0.8 0.9M64.4 298.6l1.1 0.4M65.8 296.2l1.2 0.3M67.0 293.9l1.2 0.1M68.5 291.0l-0.5 1.1M70.7 289.2l-0.8 0.9M66.5 291.4l-0.7 1.0M66.0 292.8l-1.1 0.6M65.3 295.7l-0.6 1.0M56.7 303.8l0.4 1.1M69.0 295.5l-0.5 1.1M63.4 302.1l-1.2 0.1M60.2 301.8l-0.5 1.1M69.4 292.1l0.9 0.8M78.1 312.3l1.2 0.2M70.1 309.4l-1.2 0.2M64.7 307.2l-0.3 1.2M71.7 311.2l0.5 1.1M78.7 313.4l-0.4 1.1M74.1 313.7l-0.2 1.2M69.5 313.8l-0.1 1.2M78.5 315.8l1.2 0.2M69.1 312.8l0.5 1.1M65.6 310.8l0.3 1.2M64.1 310.9l1.0 0.7M70.1 311.2l-1.1 0.4M64.5 312.6l0.3 1.2M65.4 310.5l-0.6 1.0M74.0 310.2l-0.7 0.9M76.4 313.5l-0.8 0.9M76.4 311.5l-0.8 0.9M68.2 312.6l-0.9 0.8M76.5 315.3l0.8 0.9M73.8 312.4l-1.2 0.1M78.4 315.6l1.1 0.5M70.9 314.7l-1.2 0.3M68.0 311.9l-1.1 0.5M68.1 312.8l-1.1 0.5M68.1 309.9l1.2 0.2M68.2 311.4l1.2 0.3M66.9 310.9l-1.0 0.7M73.6 310.6l0.1 1.2M71.5 312.2l0.5 1.1M73.8 315.4l-1.2 0.1M70.9 306.1l1.2 0.2M68.2 303.2l-0.1 1.2M64.3 302.1l0.2 1.2M68.6 301.7l1.1 0.5M71.7 302.6l0.4 1.1M68.9 301.3l-0.7 1.0M69.2 303.0l-1.1 0.4M66.8 301.8l1.2 0.1M71.8 302.2l-0.1 1.2M69.1 303.9l1.2 0.3" stroke="#727272" stroke-width="1.24" stroke-opacity="0.88" stroke-linecap="round" fill="none"/>
<path d="M91.1 272.4l-0.6 1.0M85.9 269.4l-1.1 0.4M82.9 268.7l1.0 0.6M90.7 274.2l-0.5 1.1M82.3 270.6l0.0 1.2M85.6 266.4l0.6 1.1M90.3 272.7l-0.7 0.9M89.8 270.7l-1.2 0.1M89.5 270.6l1.2 0.1M92.8 271.6l-1.1 0.4M81.1 273.1l0.4 1.1M81.3 274.0l-1.0 0.6M82.0 269.8l1.0 0.6M84.6 272.6l-0.8 0.9M84.2 269.1l1.1 0.4M89.3 274.0l0.6 1.0M85.1 272.0l-1.2 0.1M88.8 273.5l-0.6 1.1M95.6 272.3l-0.9 0.8M94.7 271.1l0.1 1.2M80.1 271.2l0.1 1.2M93.2 270.2l0.0 1.2M87.4 275.3l-0.9 0.8M87.3 272.6l-0.8 0.9M90.9 273.0l1.0 0.7M81.7 269.4l0.2 1.2M92.5 274.3l-0.2 1.2M90.5 272.0l-0.3 1.2M87.9 272.1l-1.2 0.3M83.1 269.7l-1.1 0.6M84.5 273.7l1.1 0.5M90.0 274.5l0.5 1.1M78.2 275.0l1.1 0.4M87.9 275.9l1.2 0.1M90.0 268.6l1.2 0.3M84.5 268.7l1.0 0.7M93.4 270.2l-0.9 0.8M92.3 272.2l-0.6 1.0M83.8 268.4l-1.0 0.7M84.9 270.9l0.7 0.9M91.5 270.5l1.1 0.6M83.2 270.9l-1.2 0.1M82.9 274.3l-1.0 0.6M82.7 273.7l-1.2 0.2M90.7 268.2l1.2 0.1M85.1 269.8l0.4 1.1M84.2 269.8l-0.5 1.1M90.4 274.4l-0.8 0.9M84.5 273.4l-1.2 0.3M83.2 269.4l-0.1 1.2M78.8 267.1l0.4 1.1M87.5 271.6l1.2 0.0M89.8 269.3l-1.0 0.7M92.8 269.5l-1.2 0.1M90.0 274.1l-1.1 0.3M88.5 274.3l-0.6 1.0M85.4 272.2l0.6 1.1M80.7 273.3l0.9 0.8M82.2 273.5l-0.9 0.8M90.4 272.0l-1.2 0.2M101.4 288.2l-1.2 0.1M96.8 281.9l1.0 0.6M96.0 283.8l-0.3 1.2M97.5 280.2l-0.0 1.2M92.2 281.2l0.3 1.2M93.1 279.4l-1.0 0.7M97.0 280.6l-1.2 0.2M98.4 282.6l-0.8 0.9M98.8 282.0l-0.7 1.0M93.6 284.4l-0.7 1.0M102.5 286.8l-0.6 1.1M93.8 279.4l-0.1 1.2M91.2 281.2l0.9 0.8M100.7 281.7l-0.9 0.8M98.0 283.8l1.1 0.4M96.8 284.4l-0.5 1.1M101.9 286.9l0.4 1.1M87.2 280.5l-0.2 1.2M89.6 278.6l-0.5 1.1M100.9 284.6l0.1 1.2M97.2 280.0l-1.2 0.1M90.9 277.6l0.9 0.8M99.1 281.5l1.2 0.0M101.3 281.0l-1.2 0.2M89.9 278.9l0.7 1.0M98.4 282.5l0.8 0.9M91.4 277.7l0.3 1.2M90.9 280.3l-0.4 1.1M98.8 281.8l-1.2 0.1M97.7 283.3l-0.7 1.0M91.5 290.1l0.6 1.0M90.6 291.5l-0.1 1.2M91.8 291.5l0.2 1.2M100.9 293.5l-0.0 1.2M89.2 289.8l0.3 1.2M98.4 291.8l1.0 0.6M90.9 291.8l0.4 1.1M91.6 289.7l0.4 1.1M87.8 287.7l1.0 0.7M96.4 293.1l-1.0 0.7M88.3 288.6l0.5 1.1M93.9 293.1l1.1 0.5M92.1 291.1l-0.3 1.2M90.4 286.4l-1.1 0.6M91.7 291.2l-0.9 0.8M90.0 287.9l-0.4 1.1M92.7 288.5l-0.8 0.9M92.3 288.6l0.6 1.0M89.8 289.8l1.1 0.5M90.8 287.8l0.8 0.9M95.5 291.8l0.5 1.1M91.0 289.5l0.8 0.9M93.8 297.1l0.1 1.2M93.2 290.4l1.1 0.5M97.8 293.9l1.1 0.5M92.4 290.8l0.8 0.9M93.4 293.1l1.0 0.7M95.9 291.5l-1.0 0.7M98.0 294.5l-0.1 1.2M91.3 291.4l1.0 0.7M101.1 302.4l0.3 1.2M99.9 301.7l-1.1 0.5M93.6 301.4l-0.3 1.2M98.3 300.2l-0.2 1.2M102.6 302.4l0.4 1.1M97.0 299.8l1.0 0.7M107.0 307.4l-0.5 1.1M97.7 297.9l1.2 0.3M99.5 300.1l-0.9 0.7M102.3 305.7l1.2 0.2M94.7 299.2l-0.8 0.9M102.9 300.0l0.4 1.1M97.5 298.5l-0.7 1.0M101.0 303.2l-0.3 1.2M101.2 305.5l1.1 0.5M98.7 303.1l-0.1 1.2M98.3 300.8l1.2 0.3M102.2 301.6l0.9 0.8M94.2 299.6l0.4 1.1M93.7 299.9l0.7 0.9M101.2 300.0l-0.6 1.0M103.9 299.7l-1.2 0.0M97.2 299.1l0.5 1.1M101.4 302.2l-1.0 0.6M104.2 302.8l0.9 0.8M103.4 306.5l-0.7 0.9M105.2 305.2l0.6 1.1M98.8 301.7l-0.1 1.2M100.9 305.1l1.2 0.3M102.2 301.9l-1.0 0.6" stroke="#35bde6" stroke-width="1.24" stroke-opacity="0.88" stroke-linecap="round" fill="none"/>
<path d="M42.7 309.0l-1.2 0.3M51.8 304.6l-0.7 1.0M53.4 306.7l-0.5 1.1M52.5 310.3l0.4 1.1M55.7 306.5l0.2 1.2M53.9 305.3l-0.5 1.1M42.5 308.1l0.5 1.1M55.0 303.0l-0.9 0.8M47.3 306.7l1.2 0.0M53.0 305.9l-0.9 0.8M44.3 313.0l-0.8 0.9M43.1 307.2l0.7 1.0M42.0 305.4l1.2 0.1M51.1 307.0l0.6 1.0M57.2 305.0l-0.3 1.2M49.0 310.2l-0.9 0.7M41.0 308.4l-1.1 0.5M42.1 314.3l1.0 0.7M53.4 304.0l1.2 0.3M41.4 309.1l1.1 0.4M42.6 309.1l-1.2 0.0M51.8 308.2l-0.5 1.1M49.3 308.4l1.1 0.5M59.6 306.3l-0.7 1.0M44.6 308.7l-1.2 0.2M55.3 307.6l-0.4 1.1M55.1 307.8l0.9 0.8M53.8 306.3l-1.2 0.1M51.5 306.5l-0.7 1.0M52.7 304.9l1.0 0.7M50.8 308.1l-0.9 0.8M52.0 304.4l-0.0 1.2M47.3 311.3l-0.3 1.2M40.8 311.0l0.5 1.1M49.1 310.0l0.7 1.0M46.5 317.5l0.3 1.2M53.3 312.7l-0.1 1.2M56.0 312.9l0.1 1.2M46.2 315.2l-1.1 0.5M49.1 311.8l1.2 0.3M52.9 310.8l1.0 0.7M50.7 312.4l-1.2 0.2M44.5 314.8l-0.4 1.1M56.6 314.5l-0.4 1.1M43.3 312.6l-0.5 1.1M58.7 311.6l0.9 0.8M46.1 315.1l0.4 1.1M53.6 319.6l0.9 0.7M47.3 311.2l1.1 0.6M47.0 319.0l-1.2 0.0M48.7 314.1l-0.8 0.9M53.7 314.9l-1.1 0.4M42.4 314.0l1.2 0.0M51.9 308.4l-0.7 1.0M56.1 314.3l0.7 1.0M57.0 312.7l0.0 1.2M46.9 315.3l-0.6 1.0M41.0 317.9l1.2 0.1M58.4 314.4l0.5 1.1M54.2 311.0l-0.2 1.2M57.8 315.3l-1.1 0.5M43.6 312.9l-0.0 1.2M46.5 313.8l0.7 1.0M53.9 319.0l-0.4 1.1M55.7 324.6l-0.3 1.2M45.7 318.6l0.7 1.0M48.5 319.3l-0.2 1.2M58.0 321.9l0.8 0.9M43.9 318.9l1.2 0.0M46.8 319.7l0.7 1.0M49.0 319.2l1.2 0.3M47.0 317.6l0.0 1.2M55.3 320.6l-0.0 1.2M47.2 319.1l-1.1 0.5M51.2 315.9l-0.8 0.9M50.8 318.4l-0.8 0.9M44.2 320.9l-1.2 0.0M58.9 318.8l0.8 0.9M50.0 319.5l0.5 1.1M49.9 318.0l0.9 0.8M53.6 320.8l1.1 0.4M54.9 317.5l-0.1 1.2M53.5 317.6l-0.0 1.2M47.1 322.4l1.1 0.5M42.5 320.2l-1.2 0.3M46.0 321.0l-1.2 0.1" stroke="#e3171f" stroke-width="1.24" stroke-opacity="0.88" stroke-linecap="round" fill="none"/>
<path d="M56.3 305.9l0.0 1.2M60.3 306.7l0.2 1.2M54.8 305.7l-0.8 0.9M56.1 306.0l0.7 1.0M56.4 307.7l-0.3 1.2M56.8 307.2l0.7 1.0M61.6 309.2l-0.9 0.8M57.2 308.0l1.0 0.6M56.3 307.5l0.0 1.2M60.4 308.0l0.2 1.2M63.0 308.8l0.2 1.2M62.6 309.3l-0.1 1.2M57.5 306.3l-0.1 1.2M56.1 305.7l0.7 1.0M60.7 306.9l-1.0 0.6M59.5 317.8l-1.2 0.2M64.0 326.7l-0.2 1.2M59.8 321.1l-0.5 1.1M61.0 319.1l-0.8 0.9M57.3 319.8l0.6 1.0M61.8 324.7l-0.3 1.1M61.4 327.9l0.1 1.2M61.0 315.4l0.1 1.2M62.3 326.8l0.4 1.1M59.0 313.0l-0.1 1.2M64.5 320.4l0.9 0.8M60.6 326.8l0.9 0.8M58.0 321.5l1.0 0.7M58.4 316.8l-0.4 1.1M63.0 320.8l0.9 0.8M56.5 318.4l-0.9 0.8M61.1 319.0l-1.1 0.4M58.9 317.9l-0.9 0.8M61.9 328.4l0.6 1.0M65.0 320.3l-1.2 0.2M62.3 325.8l0.6 1.1M53.4 316.9l0.5 1.1M63.0 326.4l-0.4 1.1M60.1 327.9l-0.6 1.1M63.3 324.1l0.3 1.2M61.9 325.0l-0.9 0.7M65.3 328.4l-1.1 0.5M62.5 323.2l0.7 0.9M59.7 317.6l0.9 0.8M59.9 321.0l0.4 1.1M63.6 327.6l-0.7 1.0M59.5 318.3l-0.6 1.0M63.4 328.3l1.0 0.6M55.6 319.2l0.4 1.1M63.8 321.4l-1.1 0.4M69.6 334.0l-1.2 0.2M66.7 334.7l-0.4 1.1M69.0 336.0l-0.9 0.8M75.3 333.3l-1.1 0.6M60.9 337.5l0.9 0.8M63.2 334.6l1.2 0.2M78.6 333.1l-0.4 1.1M60.9 338.7l0.4 1.1M73.4 327.3l-0.7 0.9M57.4 339.5l0.7 1.0M60.5 338.0l0.2 1.2M70.8 334.8l-1.0 0.7M64.3 334.1l1.1 0.3M75.8 328.9l0.3 1.2M67.8 334.4l1.1 0.6M62.2 338.3l-0.1 1.2M77.6 332.0l-0.8 0.9M64.5 339.8l-1.2 0.0M63.3 338.5l-0.9 0.8M76.8 334.2l1.1 0.5M55.3 339.1l0.2 1.2M61.3 338.6l-0.2 1.2M68.1 332.8l-0.5 1.1M71.8 334.5l-0.7 1.0M65.0 335.8l-1.2 0.1M75.4 333.4l-1.2 0.2M76.3 331.8l1.0 0.7M72.8 335.6l1.1 0.6M57.2 337.8l-1.2 0.1M74.9 331.3l1.1 0.6M70.3 334.5l-1.2 0.1M66.4 333.3l1.1 0.4M61.4 336.5l-0.3 1.2M73.5 331.0l1.1 0.5M71.1 331.8l1.1 0.5M59.9 335.5l0.6 1.0M58.9 338.3l-1.0 0.7M74.1 329.5l-0.7 1.0M61.4 336.9l0.7 1.0M63.1 336.4l1.1 0.5M66.1 332.8l0.5 1.1M79.5 332.5l1.0 0.6M77.9 332.5l0.9 0.8M76.0 330.5l0.0 1.2M68.0 334.9l0.0 1.2M70.0 331.4l-1.2 0.3M67.9 330.0l1.2 0.3M67.2 328.1l-0.1 1.2M72.0 332.1l-0.2 1.2M68.3 328.0l1.1 0.5M68.2 327.3l0.5 1.1M71.7 331.6l1.1 0.5M65.4 328.5l-1.1 0.4M63.5 328.5l0.5 1.1M66.4 331.0l1.2 0.2M65.4 330.8l0.1 1.2M70.6 331.9l-0.1 1.2M67.3 326.1l-1.1 0.4M73.3 331.8l-0.8 0.9M67.2 326.7l1.0 0.7M55.3 320.1l-1.2 0.3M51.1 320.0l1.2 0.0M52.0 321.1l-0.7 1.0M51.0 319.3l1.2 0.2M51.6 320.6l-1.0 0.6M54.1 319.2l1.0 0.7M54.5 321.0l-1.0 0.7M55.2 320.1l-1.0 0.7M47.9 321.3l-0.9 0.8M48.7 320.6l1.1 0.4" stroke="#4cb443" stroke-width="1.24" stroke-opacity="0.88" stroke-linecap="round" fill="none"/>
<path d="M77.2 301.3l-0.7 1.0M76.6 306.3l0.2 1.2M77.8 303.9l-0.1 1.2M73.7 297.9l1.1 0.4M73.0 299.2l0.9 0.8M71.7 296.7l-0.3 1.2M74.2 303.6l1.0 0.6M78.7 302.5l0.5 1.1M79.8 304.6l-0.5 1.1M75.1 305.7l-0.4 1.1M75.7 300.5l-1.1 0.4M77.0 303.8l0.2 1.2M74.7 298.4l-0.2 1.2M74.3 304.2l0.3 1.2M72.6 297.0l-0.9 0.8M73.4 297.4l-0.5 1.1M73.9 299.1l-1.2 0.2M72.3 292.5l1.1 0.5M72.4 300.7l1.1 0.5M69.2 296.3l0.7 1.0M77.7 304.5l-0.4 1.1M76.8 298.8l-0.5 1.1M74.9 299.0l1.0 0.7M68.5 294.8l0.8 0.9M75.3 299.8l-0.4 1.1M79.8 307.2l0.8 0.9M68.8 296.6l-1.0 0.6M71.8 300.5l1.1 0.4M75.2 301.2l-0.9 0.8M69.7 295.8l1.1 0.6M75.7 302.8l-0.7 0.9M77.7 310.7l-0.9 0.8M74.9 300.7l-1.2 0.2M72.7 296.2l-1.1 0.4M76.4 304.0l1.2 0.1M81.3 323.2l-0.6 1.0M77.3 320.1l-1.2 0.3M77.9 322.0l-0.9 0.8M74.1 324.9l0.2 1.2M78.2 327.8l-0.8 0.8M78.2 326.1l0.8 0.9M81.7 324.5l-1.0 0.7M76.5 328.7l0.3 1.1M82.3 326.1l-1.2 0.1M74.2 321.1l1.2 0.1M78.8 326.8l-0.3 1.2M79.2 323.2l1.1 0.5M75.7 327.8l-0.9 0.8M71.9 319.2l-1.2 0.1M79.1 321.6l0.0 1.2M77.0 321.3l-1.1 0.6M79.1 323.8l0.9 0.8M70.9 322.0l1.2 0.1M79.0 327.4l-1.0 0.7M75.3 323.7l0.3 1.2M69.6 323.6l1.2 0.3M79.9 325.3l-0.6 1.0M80.5 328.5l-1.1 0.4M75.2 320.7l1.2 0.3M80.1 327.1l-0.4 1.1M78.2 321.3l0.6 1.1M81.1 328.3l1.2 0.2M74.5 330.0l1.2 0.3M73.9 324.7l1.2 0.2M75.6 329.0l0.7 1.0M73.6 332.4l0.7 1.0M76.9 321.9l-0.1 1.2M82.8 326.0l-0.4 1.1M71.2 317.7l-1.1 0.5M81.0 327.8l-1.1 0.5M76.7 321.9l1.0 0.6M78.1 326.4l-0.5 1.1M80.9 322.5l-1.1 0.5M78.5 322.1l0.8 0.8M75.6 325.5l-0.4 1.1" stroke="#e8898c" stroke-width="1.24" stroke-opacity="0.88" stroke-linecap="round" fill="none"/>
<path d="M82.8 306.2l-0.1 1.2M88.9 299.9l1.0 0.6M86.1 300.1l-0.3 1.2M88.4 299.7l0.2 1.2M85.9 298.8l-0.2 1.2M86.4 300.2l-0.3 1.2M89.3 301.1l-0.2 1.2M84.9 307.8l-1.2 0.3M87.2 298.8l-0.2 1.2M84.3 304.7l1.1 0.4M85.0 297.3l-1.1 0.4M85.0 306.3l-0.8 0.9M85.6 298.9l0.5 1.1M85.2 304.8l0.2 1.2M82.6 308.5l-0.2 1.2M85.7 299.5l0.4 1.1M87.5 302.9l-0.6 1.0M86.6 301.3l-1.2 0.0M85.9 291.5l1.2 0.2M87.9 297.7l-1.2 0.3M86.7 303.9l-1.2 0.0M87.7 302.3l-1.1 0.5M84.8 301.3l0.1 1.2M86.2 296.1l-0.6 1.0M82.4 299.2l0.1 1.2M85.5 308.0l0.5 1.1M87.6 299.3l1.1 0.6M84.0 296.8l1.0 0.7M85.2 297.3l0.1 1.2M87.4 301.3l0.8 0.9M85.5 304.0l1.0 0.7M83.5 304.4l-0.4 1.1M86.0 298.7l0.8 0.9M86.9 302.0l-1.0 0.6M84.1 305.0l1.2 0.3M85.2 306.1l0.9 0.8M86.8 306.0l0.3 1.2M85.6 301.6l0.9 0.7M85.1 294.2l-1.0 0.6M87.2 307.7l0.0 1.2M83.4 310.2l1.2 0.2M88.5 311.7l1.0 0.7M87.2 304.6l-0.7 1.0M84.3 304.1l0.7 1.0M80.8 307.4l0.7 1.0M87.7 307.2l0.9 0.7M106.4 309.1l1.2 0.0M99.0 308.5l-0.9 0.8M87.2 311.6l0.6 1.0M92.1 307.9l0.9 0.8M95.3 314.2l1.1 0.4M94.2 310.7l-0.0 1.2M91.0 310.0l-0.8 0.9M95.2 307.1l-1.2 0.2M82.1 311.3l-1.2 0.3M84.0 304.1l1.2 0.1M97.7 302.4l0.0 1.2M87.9 309.6l0.1 1.2M97.7 312.5l-0.2 1.2M100.6 309.4l0.3 1.2M85.6 306.7l-1.2 0.3M96.9 310.1l-0.3 1.1M103.6 315.5l0.2 1.2M87.0 311.0l-1.2 0.1M98.7 313.1l-0.1 1.2M83.5 313.2l1.2 0.0M96.0 312.1l-0.5 1.1M91.7 306.3l-1.2 0.1M90.5 306.9l-0.6 1.1M83.7 309.1l1.0 0.7M87.0 310.7l-1.0 0.6M102.8 310.3l1.2 0.1M91.0 310.4l-1.1 0.6M100.8 311.5l1.1 0.5M88.7 314.8l-1.1 0.6M86.3 311.7l1.0 0.6M78.9 308.0l1.1 0.5M87.0 308.5l0.8 0.9M100.2 307.0l-0.0 1.2M95.0 307.3l-0.7 1.0M96.4 311.4l-0.0 1.2M85.4 316.3l1.2 0.3M87.2 306.0l-1.2 0.2M82.6 312.2l-1.0 0.6M91.2 309.5l0.5 1.1M90.3 310.3l1.2 0.1M86.9 314.3l0.3 1.2M100.6 311.9l-1.2 0.1M86.5 309.9l-1.2 0.2M98.3 310.4l1.0 0.6M96.9 314.3l1.0 0.7M91.6 310.3l-1.2 0.1M93.0 311.2l0.6 1.0M87.1 311.6l-0.7 1.0M90.0 312.3l-1.2 0.3M98.5 308.3l-1.0 0.6M80.3 309.9l-1.0 0.7M86.7 309.6l-0.4 1.1M107.2 308.4l-1.0 0.7M95.3 313.1l0.9 0.8M91.9 312.7l-1.1 0.4M98.0 307.2l0.9 0.7M88.8 311.9l1.1 0.5M105.2 313.4l-0.9 0.8M100.3 308.8l-1.2 0.0M93.9 341.8l-0.9 0.8M88.6 339.1l-0.5 1.1M90.0 342.2l1.2 0.3M88.2 333.9l-0.1 1.2M83.0 323.8l1.0 0.6M78.5 328.0l-0.2 1.2M84.7 317.9l0.3 1.2M84.5 319.3l1.1 0.5M77.9 335.4l-0.2 1.2M90.9 337.8l-1.0 0.7M84.0 328.3l-0.7 0.9M79.8 332.9l1.1 0.5M85.3 316.8l-1.2 0.2M82.1 339.0l-1.2 0.3M88.1 323.0l0.5 1.1M82.4 325.0l-1.2 0.1M82.1 331.9l1.0 0.7M82.3 324.6l0.4 1.1M83.1 335.0l-1.1 0.6M88.1 333.9l1.2 0.3M80.4 337.3l0.4 1.1M82.1 343.0l1.2 0.0M83.6 333.9l0.9 0.7M83.5 314.8l0.5 1.1M82.6 333.9l-1.0 0.6M89.7 330.7l-0.5 1.1M85.9 314.5l1.1 0.4M83.1 331.2l-1.0 0.7M88.4 329.5l-0.9 0.8M82.3 337.5l0.7 1.0M87.8 341.0l1.0 0.6M78.5 333.4l-0.8 0.9M81.4 319.9l-1.2 0.2M84.4 326.7l0.9 0.8M83.6 322.5l0.6 1.0M95.8 335.7l0.6 1.0M80.3 335.6l-1.2 0.1M84.4 333.4l1.2 0.2M81.2 323.4l1.2 0.1M85.8 340.5l1.0 0.6M82.4 325.7l0.1 1.2M86.1 319.2l-1.2 0.1M90.0 342.1l1.2 0.1M82.8 329.1l-1.0 0.7M83.2 317.1l-0.1 1.2M82.9 316.6l-1.1 0.4M83.4 327.5l-1.2 0.1M93.4 334.3l-0.8 0.9M82.9 332.7l0.8 0.8M86.3 329.6l-1.2 0.3M83.3 319.2l1.2 0.0M83.7 328.0l-1.2 0.0M86.1 320.9l0.3 1.2M86.2 338.1l0.8 0.9M83.6 333.8l-1.1 0.4M90.0 338.6l0.0 1.2M88.1 322.4l0.4 1.1M83.9 338.1l0.7 1.0M91.2 342.0l0.3 1.2M79.5 337.5l0.9 0.8M87.4 341.3l-0.1 1.2M79.2 320.2l0.2 1.2M79.3 327.2l0.8 0.9M83.4 322.0l1.2 0.0M80.8 321.5l1.1 0.5M86.7 339.1l-0.9 0.8M80.6 337.0l-0.7 1.0M85.3 320.3l-1.2 0.3M82.0 333.1l1.1 0.5M87.7 340.7l-1.2 0.3M92.9 338.3l-1.1 0.4M82.6 318.9l0.5 1.1M86.2 340.0l-1.2 0.2M85.2 332.0l-1.2 0.1M84.8 334.2l-1.1 0.6M94.9 324.5l-0.2 1.2M107.6 325.8l-1.1 0.5M104.9 330.0l1.1 0.6M94.0 324.0l1.1 0.5M102.1 320.4l1.1 0.5M106.7 332.1l-0.7 1.0M97.1 336.1l-1.2 0.1M92.7 332.0l1.0 0.7M103.8 326.6l1.1 0.5M107.2 323.5l-1.1 0.4M98.5 325.9l-1.1 0.4M105.7 326.1l1.1 0.5M101.9 332.4l1.2 0.1M96.4 326.1l0.8 0.9M106.8 323.8l0.8 0.9M99.8 326.4l1.2 0.0M102.1 336.7l1.1 0.5M95.4 333.2l-1.0 0.6M105.3 329.6l1.2 0.2M107.2 327.2l0.2 1.2M103.5 321.1l-0.8 0.9M95.0 330.1l-0.7 0.9M106.8 328.1l0.7 1.0M108.2 328.7l1.1 0.5M99.1 333.5l0.3 1.2M103.6 323.6l0.5 1.1M97.3 329.5l0.2 1.2M105.8 324.3l0.7 1.0M103.6 325.1l0.1 1.2M94.8 326.1l-1.2 0.1M97.1 325.2l1.2 0.0M97.0 336.0l0.9 0.8M102.8 328.8l-1.1 0.5M96.6 324.8l0.0 1.2M106.8 325.8l-0.9 0.8M93.9 327.0l1.2 0.3M104.7 336.8l-1.2 0.0M106.4 329.0l1.2 0.0M93.0 330.2l-0.9 0.7M100.9 325.3l0.9 0.8M99.7 321.8l-0.7 0.9M103.5 332.3l-1.0 0.7M96.6 326.1l-0.8 0.9M100.3 332.7l-1.2 0.2M100.8 320.5l0.9 0.8M92.7 327.8l-1.1 0.5M95.1 333.9l-0.4 1.1M104.9 334.1l1.0 0.7M102.6 323.6l0.9 0.8M105.6 325.2l1.2 0.3M99.5 336.9l-1.1 0.4M104.0 331.4l0.6 1.0M98.4 327.4l0.6 1.1M97.3 330.4l1.1 0.4M101.2 323.6l-1.0 0.7M101.2 321.3l-0.2 1.2M105.8 327.1l1.0 0.7M104.2 333.6l-1.0 0.7M109.8 328.2l-0.1 1.2M93.6 331.2l-1.0 0.7M104.5 323.7l-0.7 1.0M105.8 324.7l0.3 1.2M96.3 321.3l0.5 1.1M103.6 333.4l-1.1 0.4M103.9 325.4l1.0 0.6M96.7 321.1l1.1 0.4M95.6 324.5l-1.1 0.5M101.3 319.9l-0.7 1.0M99.3 321.9l-1.2 0.3M95.0 332.0l-0.4 1.1M104.8 331.5l-1.2 0.0M101.3 332.4l0.3 1.2M95.2 327.3l1.2 0.2M99.7 330.6l-0.6 1.0M98.6 327.2l0.8 0.9M99.8 329.3l0.4 1.1M107.1 331.4l0.5 1.1M95.0 330.3l0.6 1.0M106.8 324.1l-0.1 1.2M97.3 324.3l-0.4 1.1M102.7 326.5l1.2 0.3M105.6 328.9l-1.1 0.4M95.5 334.8l0.6 1.1M102.0 320.3l-0.8 0.9M95.5 322.8l0.6 1.1M97.1 323.0l1.1 0.4M103.2 330.5l0.6 1.0M98.4 324.5l0.9 0.8M103.0 326.4l0.7 1.0M106.1 334.9l-0.6 1.0M105.2 336.2l-0.6 1.0M96.8 334.9l1.0 0.7M99.6 334.9l-0.7 1.0M103.3 324.8l-0.4 1.1M96.4 335.0l1.0 0.6M98.0 321.5l-0.3 1.2M92.8 319.2l1.2 0.2M101.3 324.6l-0.6 1.1M90.0 318.0l0.8 0.9M96.1 317.4l-0.3 1.2M102.9 319.7l-1.2 0.2M93.1 317.3l-0.7 1.0M90.6 319.1l-0.2 1.2M104.5 322.5l-0.3 1.2M101.0 318.7l0.9 0.8M102.1 323.1l0.1 1.2M89.2 317.6l1.2 0.2M92.1 316.3l0.0 1.2M99.6 321.4l-1.2 0.1M90.5 318.6l-0.0 1.2M97.7 324.4l-0.8 0.9M98.8 322.2l-1.1 0.4M98.9 318.8l-0.2 1.2M101.6 321.4l1.1 0.5M94.6 318.4l-1.2 0.0M93.5 317.6l-0.0 1.2M97.6 319.1l0.3 1.2M101.0 321.5l1.2 0.2M98.9 319.5l-0.8 0.9M96.4 318.1l-1.1 0.6M89.4 317.8l-0.1 1.2M98.3 321.6l1.0 0.7M100.9 319.0l-0.7 1.0M105.4 321.1l1.0 0.7M96.5 320.1l0.6 1.1" stroke="#2a4399" stroke-width="1.24" stroke-opacity="0.88" stroke-linecap="round" fill="none"/>
<path d="M188.6 281.9l-1.2 0.3M186.1 278.4l0.2 1.2M185.8 280.6l-0.5 1.1M185.8 277.7l-1.2 0.3M183.3 279.1l0.6 1.0M188.7 280.5l1.1 0.4M183.3 278.3l0.9 0.8M183.5 278.7l1.0 0.7M183.4 282.7l-0.6 1.0M184.4 280.3l0.5 1.1M182.2 277.2l0.5 1.1M185.0 283.6l-1.0 0.7M185.8 277.6l0.9 0.8M189.2 282.2l-1.0 0.7M187.2 282.8l-0.5 1.1M187.0 281.9l0.4 1.1M187.6 281.6l-1.0 0.6M183.7 280.1l0.6 1.1M184.8 283.2l-1.1 0.4M185.0 282.6l-1.2 0.3M182.8 282.5l-0.0 1.2M189.1 279.6l-0.7 1.0M185.7 283.3l-1.2 0.2M187.2 279.8l-0.8 0.9M181.8 278.7l-0.9 0.8M187.1 277.7l-1.1 0.5M189.4 278.6l-1.2 0.2M189.3 278.6l-0.9 0.8M185.0 280.5l-1.2 0.1M185.7 280.5l0.7 1.0M182.5 277.7l-0.5 1.1M184.8 283.0l-0.6 1.0M185.5 276.7l0.5 1.1M187.7 281.4l0.4 1.1M185.5 278.4l1.0 0.6M182.0 283.0l-1.2 0.2M179.8 280.0l0.5 1.1M188.2 277.9l0.1 1.2M181.8 282.9l-1.1 0.4M183.0 281.6l1.0 0.7M180.8 287.5l-1.2 0.1M187.8 295.7l1.1 0.5M180.2 286.2l1.2 0.1M182.3 287.6l0.5 1.1M180.8 286.2l0.5 1.1M182.6 286.6l-1.2 0.3M180.1 288.6l-1.1 0.4M186.5 295.1l-0.9 0.8M177.8 287.1l0.2 1.2M187.3 292.1l-0.2 1.2M184.4 293.4l0.9 0.8M181.6 287.2l-1.0 0.6M177.6 288.1l0.4 1.1M179.5 286.4l0.8 0.9M186.6 295.1l-0.5 1.1M180.1 287.7l1.1 0.5M179.6 285.7l0.7 1.0M182.7 287.1l-1.2 0.3M179.2 285.6l1.1 0.4M190.9 294.5l1.1 0.5M180.2 289.0l1.0 0.7M181.2 290.1l0.8 0.9M184.4 295.4l0.3 1.2M183.7 291.7l0.8 0.8M184.9 292.2l0.6 1.1M182.5 289.2l0.9 0.8M182.0 290.6l0.9 0.8M182.5 293.3l-0.4 1.1M185.5 285.6l0.6 1.0M182.5 294.6l0.5 1.1M175.4 292.4l-0.9 0.8M171.5 293.0l1.2 0.2M173.2 296.2l1.1 0.5M175.6 295.3l-1.1 0.5M176.5 297.6l0.3 1.2M176.5 293.1l-0.9 0.8M175.1 294.6l1.1 0.5M168.2 293.2l-0.1 1.2M165.4 293.2l-1.1 0.6M163.2 296.6l0.6 1.0M163.6 293.1l-0.9 0.8M171.0 293.1l-0.4 1.1M174.1 293.7l0.4 1.1M168.3 296.6l-1.2 0.0M177.1 290.5l0.4 1.1M160.0 291.5l0.1 1.2M173.1 292.5l-0.4 1.1M170.6 290.3l0.7 1.0M166.9 292.7l-1.0 0.6M179.5 292.3l-0.4 1.1M167.7 295.3l-0.3 1.2M163.7 294.5l-0.1 1.2M173.6 294.6l-1.2 0.1M159.3 300.7l-1.2 0.0M164.2 294.5l-1.1 0.6M168.4 290.3l0.2 1.2M175.3 292.6l0.3 1.2M164.5 290.3l-0.1 1.2M168.4 292.3l1.2 0.2M175.0 290.9l1.1 0.4M162.6 304.3l-1.2 0.0M168.5 304.7l1.1 0.5M166.8 315.2l-1.2 0.2M172.1 311.1l-0.6 1.0M172.6 308.8l-1.2 0.3M174.5 315.5l1.2 0.3M166.4 310.3l0.7 1.0M174.4 311.1l-1.0 0.7M172.5 317.3l1.2 0.0M171.3 306.4l1.1 0.4M164.9 304.0l0.5 1.1M174.2 310.2l1.0 0.6M160.6 304.3l1.1 0.5M171.9 309.5l-0.6 1.0M167.3 302.4l1.2 0.3M175.3 307.7l-1.2 0.1M167.2 300.8l-0.5 1.1M165.8 302.8l1.2 0.2M167.4 304.4l-1.1 0.4M169.1 310.6l0.9 0.8M169.1 309.5l0.1 1.2M175.2 313.7l-0.2 1.2M170.8 305.9l1.1 0.5M169.3 311.6l-0.0 1.2M167.2 309.7l1.2 0.2M167.4 305.3l1.0 0.7M166.8 301.6l-1.2 0.3M167.5 304.3l-1.0 0.6M174.7 313.4l-0.1 1.2M167.1 307.7l-0.6 1.0M167.8 309.4l-1.1 0.5M171.8 311.6l1.1 0.5M175.2 311.0l0.0 1.2M173.7 313.2l1.1 0.5M180.1 315.3l1.1 0.4M171.1 309.8l1.1 0.4M173.4 314.7l0.9 0.7M169.9 310.1l1.2 0.2M176.1 310.4l0.9 0.8M175.3 313.6l0.4 1.1M174.8 313.2l-0.5 1.1M181.2 315.9l-1.1 0.5M173.6 313.1l-1.1 0.4M170.9 311.0l-0.8 0.9M173.6 314.9l-0.0 1.2" stroke="#727272" stroke-width="1.24" stroke-opacity="0.88" stroke-linecap="round" fill="none"/>
<path d="M198.1 272.9l1.0 0.7M196.1 271.4l1.0 0.7M193.1 273.2l0.4 1.1M192.5 273.6l-1.0 0.6M195.1 271.8l1.2 0.0M194.1 267.2l-1.1 0.5M191.5 269.2l0.7 1.0M198.2 272.2l-0.3 1.2M193.1 273.4l0.1 1.2M193.6 270.3l1.1 0.4M196.6 272.5l-1.2 0.2M197.9 269.5l1.0 0.6M197.1 272.3l-1.0 0.7M190.9 270.2l-1.1 0.4M196.4 270.2l0.2 1.2M197.4 272.9l-1.2 0.1M193.0 269.7l1.2 0.2M194.2 270.6l1.1 0.5M191.9 272.9l0.1 1.2M193.4 271.4l1.2 0.3M196.5 275.6l-1.0 0.7M191.5 273.1l-0.1 1.2M190.8 271.2l-1.0 0.7M192.3 269.1l0.7 0.9M194.9 273.1l1.2 0.1M192.9 272.1l-1.1 0.4M190.8 271.8l1.0 0.7M193.2 271.1l0.3 1.2M189.1 269.8l1.1 0.5M191.0 269.9l-0.3 1.2M197.3 270.8l0.1 1.2M192.6 270.5l1.0 0.7M191.0 271.0l1.2 0.1M192.5 272.7l0.6 1.0M196.2 273.5l-0.9 0.8M196.9 278.4l1.1 0.6M198.8 279.5l0.9 0.8M198.8 279.1l-0.4 1.1M200.8 277.6l-0.5 1.1M199.5 275.7l-1.0 0.7M193.9 281.5l-0.5 1.1M203.1 281.8l-1.1 0.5M199.0 278.3l1.1 0.6M198.9 280.0l-1.2 0.3M193.0 277.6l1.2 0.1M197.3 280.1l1.1 0.4M200.4 280.8l1.1 0.4M197.6 279.5l-0.9 0.8M198.6 278.0l-0.0 1.2M202.4 279.3l-1.2 0.3M199.1 280.4l-1.2 0.1M193.2 278.2l-1.2 0.2M198.8 277.9l-0.4 1.1M199.9 279.3l0.5 1.1M199.0 279.6l-1.2 0.2M195.7 286.0l-0.8 0.9M203.4 287.9l1.0 0.7M204.0 289.0l-0.2 1.2M200.1 288.8l1.2 0.1M198.4 289.3l1.2 0.1M196.4 290.1l-0.5 1.1M205.3 289.9l-0.8 0.9M201.4 286.1l-1.1 0.5M207.8 287.5l-0.9 0.8M209.5 289.9l1.1 0.5M209.4 289.0l-0.8 0.9M208.7 286.4l-1.2 0.1M191.7 284.7l-0.6 1.0M196.8 288.5l0.1 1.2M197.2 286.4l0.7 1.0M209.0 287.3l1.2 0.2M198.0 286.0l-0.5 1.1M198.1 282.8l-1.2 0.1M199.3 286.7l1.1 0.4M204.0 288.6l-1.0 0.6M198.1 286.3l-1.1 0.4M199.9 290.0l0.5 1.1M191.7 285.2l-1.1 0.6M199.4 286.7l1.1 0.6M197.4 287.5l0.7 1.0M206.6 288.3l-0.2 1.2M196.1 289.1l-1.1 0.4M205.0 287.7l-0.1 1.2M202.8 289.4l1.2 0.3M192.1 280.6l-1.2 0.3M201.8 287.3l-0.3 1.2M198.3 287.7l-0.9 0.8M197.1 289.3l0.9 0.8M208.9 287.0l0.6 1.0M191.3 288.7l1.2 0.3M211.4 303.3l1.0 0.7M211.9 303.8l0.2 1.2M210.3 296.4l0.3 1.2M210.0 300.0l-0.6 1.1M213.6 298.2l-1.0 0.6M205.6 298.4l0.6 1.0M210.4 298.2l-1.2 0.3M205.4 294.5l-0.6 1.1M214.5 297.8l0.6 1.1M206.8 296.4l1.0 0.7M210.5 304.0l-1.2 0.2M211.1 300.1l-0.6 1.1M209.3 302.3l1.2 0.2M215.3 302.2l-0.7 1.0M211.8 302.4l0.4 1.1M212.3 296.8l0.3 1.2M211.4 299.4l-0.9 0.8M205.2 295.7l0.9 0.8M211.9 305.4l0.8 0.9M213.9 304.5l-0.2 1.2M211.7 299.3l-1.1 0.4M210.8 297.8l1.2 0.3M208.0 296.0l-1.0 0.6M210.7 298.7l-0.8 0.9M204.7 298.5l1.0 0.6M216.3 301.9l-0.6 1.0M211.8 302.4l-0.4 1.1M206.9 299.7l-0.7 0.9M210.8 297.8l-0.1 1.2M205.9 297.3l0.7 1.0M193.3 300.2l-0.0 1.2M191.0 304.8l0.9 0.8M193.5 305.5l0.2 1.2M192.4 301.7l0.3 1.1M192.6 304.9l1.1 0.4M191.6 304.1l0.9 0.8M190.4 300.4l0.6 1.1M192.2 303.2l0.4 1.1M191.8 304.2l-0.2 1.2M192.8 303.3l-0.8 0.9" stroke="#35bde6" stroke-width="1.24" stroke-opacity="0.88" stroke-linecap="round" fill="none"/>
<path d="M151.0 314.3l0.8 0.9M152.4 308.0l1.2 0.3M150.1 306.3l-1.0 0.6M148.4 309.1l-0.2 1.2M155.0 303.3l-0.6 1.1M154.3 316.9l0.7 1.0M163.3 307.0l-0.9 0.8M154.4 309.8l-1.2 0.1M149.9 309.0l-1.2 0.0M150.9 308.7l1.2 0.2M150.5 313.5l0.7 1.0M161.9 309.6l1.2 0.3M154.5 312.7l0.1 1.2M163.3 318.4l-0.6 1.1M162.5 309.0l-0.4 1.1M157.4 313.6l0.5 1.1M158.3 310.0l-1.2 0.1M155.6 304.9l-0.5 1.1M163.5 313.7l-1.2 0.0M155.4 315.8l0.3 1.2M149.6 307.5l-0.5 1.1M161.9 318.1l1.1 0.4M165.9 311.7l-0.1 1.2M156.6 320.9l-0.5 1.1M162.0 306.1l0.9 0.8M156.7 317.8l-0.5 1.1M159.2 307.8l1.1 0.5M157.3 321.0l0.1 1.2M157.3 309.1l-0.4 1.1M162.0 321.0l0.1 1.2M164.3 314.8l1.1 0.5M162.2 313.3l1.0 0.7M151.1 308.6l0.5 1.1M158.9 311.1l-0.6 1.1M161.7 306.9l0.3 1.2M152.2 309.1l1.0 0.7M165.0 316.0l0.6 1.0M155.2 306.8l0.7 1.0M146.6 310.7l1.1 0.5M165.8 311.9l-0.3 1.2M159.6 320.6l0.1 1.2M146.8 309.5l0.6 1.0M153.9 308.2l1.2 0.0M154.4 317.1l-1.2 0.3M148.3 317.4l1.2 0.2M151.6 316.6l1.1 0.4M149.3 318.9l0.7 1.0M155.0 319.9l-0.9 0.7M166.1 315.1l-1.2 0.2M147.0 310.5l-0.9 0.8M165.2 316.3l1.0 0.7M161.9 312.9l-1.1 0.6M157.8 315.4l1.2 0.1M149.7 317.8l1.1 0.4M162.6 318.8l1.1 0.4M146.7 314.8l-0.2 1.2M148.5 316.3l-0.3 1.1M159.8 316.2l-0.5 1.1M155.0 308.3l-1.2 0.2M160.9 314.1l-0.9 0.8M151.4 308.1l-0.8 0.9M150.0 316.7l1.0 0.6M160.4 307.0l-1.2 0.3M165.9 315.1l-1.2 0.3M159.6 309.0l-1.0 0.6M159.4 321.0l1.2 0.3M150.7 305.8l-0.7 0.9M162.0 308.0l-0.1 1.2M148.4 312.9l-0.1 1.2M149.5 307.5l0.8 0.9" stroke="#e3171f" stroke-width="1.24" stroke-opacity="0.88" stroke-linecap="round" fill="none"/>
<path d="M172.1 316.8l0.8 0.9M167.1 317.9l1.1 0.4M171.3 319.0l-0.7 1.0M163.2 314.6l1.0 0.7M167.7 317.0l0.4 1.1M174.6 318.6l0.3 1.2M171.1 319.6l-0.7 1.0M168.2 315.5l-1.0 0.7M167.4 319.4l-0.5 1.1M174.4 315.7l0.9 0.8M164.8 316.4l1.1 0.5M167.6 317.7l-0.2 1.2M170.5 319.8l0.5 1.1M169.9 321.3l-0.8 0.9M166.4 319.6l0.9 0.8M170.3 316.0l-0.7 1.0M169.9 320.3l0.5 1.1M174.0 320.0l0.8 0.9M168.5 319.2l1.0 0.6M168.1 315.3l-0.9 0.8M183.4 328.3l-0.0 1.2M182.4 338.7l-0.2 1.2M182.3 334.2l-1.0 0.6M174.9 338.8l1.2 0.1M177.6 335.7l-0.2 1.2M176.5 337.9l0.6 1.0M181.6 335.4l0.9 0.8M180.5 338.9l-1.0 0.6M172.8 332.3l0.9 0.8M174.1 335.6l0.3 1.2M172.2 329.3l0.2 1.2M172.3 324.7l1.1 0.5M167.6 327.6l0.7 1.0M177.2 334.1l1.2 0.0M167.1 323.7l-0.0 1.2M172.3 336.6l-0.5 1.1M166.5 325.5l-1.2 0.0M172.0 329.0l-1.2 0.2M168.6 325.1l0.6 1.0M169.0 330.1l-1.2 0.1M171.9 336.1l1.1 0.4M173.9 332.2l1.1 0.5M176.6 338.0l-0.1 1.2M177.6 336.4l-0.7 1.0M170.0 321.5l-0.3 1.1M174.0 338.7l1.2 0.1M176.3 336.6l0.3 1.2M175.5 335.7l0.0 1.2M169.5 330.0l0.4 1.1M171.9 327.0l-0.9 0.8M177.2 334.8l-0.8 0.9M178.9 336.9l1.2 0.3M181.3 332.5l0.1 1.2M181.0 335.5l-0.7 1.0M176.3 336.5l-0.9 0.7M180.6 336.1l-0.6 1.0M171.2 324.8l-1.2 0.1M171.7 327.2l-0.8 0.9M179.1 338.5l0.4 1.1M174.1 333.0l-1.0 0.6M174.7 328.2l-0.4 1.1M168.3 328.6l-0.4 1.1M179.2 339.0l-0.3 1.1M171.5 334.3l-0.9 0.8M171.0 334.7l-0.7 1.0M182.3 332.1l0.2 1.2M172.5 329.4l-0.9 0.7M167.4 324.7l0.3 1.2M181.2 340.5l-0.8 0.9M183.3 336.8l-1.2 0.3M170.7 332.7l-0.1 1.2M169.9 327.0l1.1 0.5M181.4 336.8l-1.1 0.3M182.8 335.8l0.9 0.7M177.7 337.5l0.9 0.7M176.2 336.1l1.2 0.2M171.2 333.4l0.3 1.2M182.0 335.6l0.4 1.1M171.3 324.1l-1.0 0.6M176.8 332.8l1.0 0.6M174.9 337.4l0.5 1.1M173.7 334.1l-0.9 0.8M175.5 328.9l1.2 0.1M174.4 338.1l0.3 1.2M167.8 323.9l1.1 0.5M174.8 334.1l-0.9 0.8M178.8 332.8l0.7 1.0M171.9 337.7l1.1 0.5M172.1 338.4l1.1 0.4M183.2 335.7l1.0 0.7M171.1 330.5l-0.7 1.0M172.4 326.3l1.1 0.4M169.7 323.9l1.2 0.1M180.6 336.2l0.9 0.8M171.5 332.6l1.2 0.2M167.3 323.5l-0.8 0.9M171.9 326.9l-0.9 0.8M169.8 329.9l-0.1 1.2M170.1 332.0l0.6 1.0M172.8 330.4l1.2 0.1M167.3 323.3l-0.8 0.9M171.8 324.7l0.9 0.8M173.2 336.6l-0.2 1.2M169.5 327.1l-1.2 0.0M179.7 337.9l0.9 0.8M176.3 334.8l-0.7 1.0M184.0 335.2l0.2 1.2M168.7 332.3l-0.1 1.2M176.6 335.3l0.4 1.1M175.0 340.3l-0.7 1.0M165.8 320.9l-0.1 1.2M177.6 335.4l1.2 0.1M173.4 327.3l-1.0 0.6M168.7 332.7l0.9 0.8M179.6 335.2l0.5 1.1M172.0 334.9l0.1 1.2M170.7 338.0l-0.3 1.1M169.8 320.8l-0.9 0.8M168.6 324.7l1.1 0.4M171.7 331.2l0.4 1.1" stroke="#4cb443" stroke-width="1.24" stroke-opacity="0.88" stroke-linecap="round" fill="none"/>
<path d="M182.6 306.8l-1.2 0.1M187.0 307.4l0.4 1.1M183.2 307.3l1.2 0.0M183.8 309.7l-0.1 1.2M181.2 306.6l-0.6 1.1M182.8 301.4l0.9 0.8M181.1 303.3l-0.8 0.9M183.5 308.9l1.0 0.7M178.4 299.9l-1.1 0.4M183.9 311.4l0.2 1.2M180.8 303.0l-1.2 0.2M180.6 303.1l-0.4 1.1M183.5 305.5l-0.8 0.9M184.5 310.2l1.0 0.7M177.5 301.6l-1.1 0.4M181.8 305.5l-1.2 0.0M182.1 307.8l1.1 0.5M179.3 299.7l-0.3 1.2M185.7 312.1l1.1 0.6M186.0 306.7l-1.1 0.4M181.8 302.6l-1.1 0.5M176.1 301.2l-1.2 0.3M183.1 305.5l-0.9 0.8M183.1 307.5l0.4 1.1M181.9 307.5l-0.5 1.1M178.1 303.6l1.2 0.2M184.9 307.2l1.1 0.4M182.1 303.2l-0.2 1.2M183.6 303.2l-0.8 0.9M185.4 312.1l0.7 1.0M179.6 304.2l1.2 0.1M181.9 305.4l1.2 0.2M182.9 307.0l0.6 1.0M184.1 309.1l0.5 1.1M185.2 302.6l-1.1 0.3M185.7 323.9l-0.7 1.0M184.7 320.2l-1.1 0.4M189.6 323.3l-0.9 0.8M185.8 318.8l-0.7 1.0M184.7 323.4l-0.9 0.8M186.0 320.2l0.9 0.8M184.6 320.3l-0.9 0.8M187.4 322.6l-0.3 1.2M180.7 327.6l-0.5 1.1M183.6 320.3l0.0 1.2M187.3 322.4l0.2 1.2M185.1 324.8l-1.1 0.6M186.3 324.2l-1.0 0.7M183.7 326.2l1.0 0.7M179.8 320.7l-1.1 0.5M183.2 323.9l-0.1 1.2M184.1 320.8l1.2 0.2M182.4 329.9l-0.9 0.7M183.9 329.3l-1.1 0.4M185.3 323.2l0.2 1.2M185.2 324.9l0.3 1.2M179.3 328.5l0.8 0.9M183.2 322.0l1.0 0.7M183.9 317.6l-0.1 1.2M181.9 322.5l0.2 1.2M177.2 315.2l-0.6 1.1M184.3 325.2l-0.6 1.1M183.1 322.1l1.0 0.7M183.8 328.2l-0.9 0.8M179.0 327.3l0.2 1.2M187.4 322.6l0.3 1.1M181.1 322.3l1.0 0.7M186.5 325.4l-0.4 1.1M183.8 322.3l-0.6 1.0M185.6 321.8l-0.9 0.8" stroke="#e8898c" stroke-width="1.24" stroke-opacity="0.88" stroke-linecap="round" fill="none"/>
<path d="M190.9 303.9l1.2 0.0M193.5 299.9l-0.9 0.8M195.3 299.9l-1.2 0.2M194.5 303.3l0.9 0.8M192.8 296.3l-0.5 1.1M192.9 302.3l1.1 0.4M191.8 298.7l0.4 1.1M190.9 302.8l-1.2 0.2M190.5 294.9l1.2 0.3M194.9 299.9l1.0 0.7M196.6 294.0l1.1 0.6M194.1 304.9l1.1 0.6M193.3 298.7l0.9 0.8M192.0 301.5l-1.2 0.2M193.2 299.7l-0.4 1.1M198.0 294.5l-0.0 1.2M196.2 293.4l-1.0 0.7M193.3 302.8l-0.6 1.1M192.2 297.9l-1.2 0.1M193.1 296.1l0.6 1.1M198.4 297.3l-0.1 1.2M191.7 299.3l-1.1 0.3M193.1 304.3l0.7 1.0M194.1 305.0l-1.2 0.3M194.7 295.7l0.4 1.1M192.2 297.1l0.2 1.2M196.5 299.5l0.4 1.1M195.8 297.5l1.1 0.4M192.3 299.6l0.5 1.1M194.3 292.1l-0.7 1.0M192.1 305.2l-1.1 0.5M191.9 320.6l-0.2 1.2M191.9 318.4l1.2 0.2M194.8 329.1l-0.3 1.2M186.0 317.1l-0.5 1.1M192.8 337.8l-0.4 1.1M190.5 319.9l0.8 0.9M194.9 311.6l1.2 0.2M193.5 311.4l-0.1 1.2M192.9 320.8l0.8 0.9M192.4 338.8l-1.0 0.6M192.9 311.4l-1.1 0.5M196.4 336.6l1.2 0.2M196.0 340.0l-0.9 0.8M195.8 312.0l0.2 1.2M193.8 322.3l0.3 1.2M191.6 312.0l0.2 1.2M189.5 309.6l-1.1 0.5M197.0 307.5l1.1 0.3M194.8 337.7l-1.2 0.2M193.1 336.2l-1.2 0.3M186.4 334.6l0.2 1.2M194.6 311.0l-1.2 0.1M189.2 314.4l-1.0 0.7M192.4 313.7l-0.7 1.0M192.0 315.1l-0.1 1.2M196.8 336.0l-0.8 0.9M197.8 336.9l-0.3 1.2M192.5 304.3l-0.9 0.7M194.9 315.0l0.9 0.8M192.2 333.9l0.3 1.2M189.7 335.9l0.8 0.9M194.8 321.4l1.2 0.0M196.1 324.9l-0.7 1.0M193.4 330.3l-0.4 1.1M192.8 319.2l0.9 0.8M192.3 338.7l-1.0 0.7M192.1 302.6l-0.8 0.9M195.6 324.3l-0.9 0.8M188.9 337.6l-0.3 1.2M189.2 318.0l0.7 1.0M190.7 343.0l-0.6 1.1M185.8 328.9l0.8 0.9M187.9 312.1l-0.1 1.2M193.2 333.5l-1.0 0.7M191.1 326.7l-0.0 1.2M196.5 335.5l-1.1 0.5M192.0 327.1l-1.0 0.6M193.8 314.5l0.1 1.2M190.0 332.4l0.4 1.1M191.8 309.2l0.8 0.9M192.0 325.7l0.1 1.2M186.6 310.1l1.2 0.3M193.1 312.2l-1.0 0.6M188.3 315.0l0.9 0.8M192.3 328.3l1.2 0.3M191.8 303.9l1.1 0.5M191.5 315.6l0.5 1.1M187.9 320.8l0.6 1.0M198.1 310.9l-0.4 1.1M194.5 310.9l0.6 1.0M191.7 341.1l0.9 0.8M188.0 334.8l0.1 1.2M189.2 331.0l-0.0 1.2M193.3 331.5l-0.1 1.2M189.5 338.3l0.4 1.1M188.9 334.0l-0.2 1.2M192.0 337.3l-1.2 0.1M191.3 336.5l0.5 1.1M192.3 337.4l-0.7 1.0M193.2 332.7l0.3 1.2M193.0 306.9l-0.7 0.9M195.7 339.7l0.4 1.1M192.0 327.4l-1.0 0.7M195.0 322.9l-1.2 0.0M193.2 306.1l-0.7 0.9M193.3 336.8l-0.8 0.9M194.1 312.4l1.2 0.2M195.2 327.5l-0.7 1.0M187.8 332.9l-0.7 1.0M186.3 324.5l1.1 0.6M189.9 314.8l-0.9 0.8M194.7 330.2l-1.0 0.6M190.1 328.6l-1.2 0.3M191.3 331.8l0.3 1.2M188.9 320.8l1.0 0.6M196.4 312.0l1.0 0.7M188.8 334.6l1.2 0.0M195.6 309.4l-0.0 1.2M194.3 307.3l-1.2 0.1M210.2 315.2l0.5 1.1M207.5 310.6l-0.1 1.2M205.2 314.1l1.1 0.5M203.4 305.9l-0.9 0.8M208.6 303.8l0.5 1.1M217.2 309.2l0.7 0.9M196.7 309.8l-1.0 0.7M213.4 315.4l-0.7 1.0M200.7 309.9l-0.3 1.2M211.4 314.2l-0.8 0.9M208.8 314.6l1.1 0.5M204.9 304.0l-0.7 0.9M204.0 311.2l-0.3 1.2M200.7 311.0l-0.5 1.1M210.1 315.0l0.6 1.0M197.2 308.7l0.2 1.2M204.0 307.9l1.1 0.3M198.2 308.6l0.2 1.2M211.9 311.0l0.1 1.2M211.0 315.2l-0.2 1.2M207.7 308.5l0.0 1.2M216.9 317.8l-0.4 1.1M204.1 310.1l-0.2 1.2M196.5 312.4l-1.2 0.0M201.2 305.6l1.1 0.6M208.8 307.3l-0.5 1.1M205.6 308.1l-0.8 0.9M203.5 311.5l-0.9 0.8M199.8 309.5l1.0 0.6M205.6 304.3l0.8 0.9M204.8 309.4l-0.7 1.0M199.4 304.6l-0.5 1.1M208.3 313.8l0.6 1.0M212.0 312.3l-1.0 0.7M206.5 307.5l0.2 1.2M202.5 309.4l0.8 0.9M206.1 305.8l0.1 1.2M203.7 309.4l0.9 0.7M196.6 305.8l-0.8 0.9M200.7 307.7l-1.2 0.1M206.6 311.3l-0.8 0.9M207.7 309.2l-0.3 1.2M199.4 308.0l1.1 0.4M209.7 307.0l-1.2 0.2M202.3 305.2l-1.1 0.5M214.8 312.2l-1.0 0.6M210.4 317.2l-0.8 0.9M211.0 309.8l1.2 0.3M202.4 306.1l0.7 1.0M205.8 305.9l0.1 1.2M205.4 306.0l-0.4 1.1M196.4 309.5l0.9 0.7M204.7 306.8l-1.1 0.4M203.4 303.5l0.0 1.2M211.4 310.1l-0.8 0.9M199.0 310.4l-1.1 0.4M210.7 315.7l0.8 0.9M193.7 310.6l1.0 0.7M201.8 307.8l-0.3 1.2M202.4 311.3l1.1 0.4M206.5 330.5l1.2 0.1M203.9 319.3l1.2 0.1M204.7 317.6l-0.9 0.8M213.0 332.3l-1.1 0.6M207.6 321.1l0.4 1.1M200.3 319.5l0.1 1.2M199.9 313.0l-0.3 1.2M212.7 325.1l0.7 1.0M199.3 317.7l0.6 1.0M209.2 331.1l0.4 1.1M208.4 319.2l0.8 0.9M209.2 319.0l-0.7 1.0M207.9 318.6l-0.2 1.2M211.5 321.3l1.1 0.4M200.1 322.1l1.1 0.4M209.3 317.6l-0.8 0.9M200.0 315.3l0.1 1.2M198.6 322.4l-1.1 0.5M200.2 318.0l-0.8 0.9M210.8 328.6l-0.3 1.2M200.5 317.1l0.8 0.9M212.1 333.8l-0.4 1.1M202.4 317.7l0.1 1.2M203.1 320.5l-0.8 0.9M198.9 315.2l0.8 0.9M211.1 333.3l-1.2 0.0M202.2 313.3l-1.2 0.2M207.6 313.7l-1.2 0.1M210.4 324.3l0.4 1.1M205.8 318.4l1.0 0.7M205.6 323.0l0.2 1.2M208.1 322.1l-0.9 0.8M198.9 313.7l-0.6 1.1M212.7 327.5l1.2 0.0M205.5 331.6l0.9 0.8M211.7 320.2l-1.2 0.1M209.2 325.6l-0.1 1.2M207.8 331.6l1.2 0.3M201.6 321.4l-0.3 1.2M207.9 320.5l-0.9 0.8M203.9 317.1l-1.2 0.3M209.7 316.3l1.1 0.4M209.3 323.2l-0.7 0.9M212.7 327.7l1.1 0.4M209.7 330.2l-0.5 1.1M201.3 316.4l-0.2 1.2M200.6 320.4l1.2 0.1M211.4 330.7l1.0 0.6M206.0 322.5l0.3 1.2M207.7 323.2l-0.7 1.0M212.5 328.6l-1.2 0.0M208.4 318.0l0.8 0.9M201.3 322.7l0.8 0.9M208.3 320.4l-0.7 1.0M203.2 315.1l0.2 1.2M206.3 320.9l-0.4 1.1M208.3 321.8l-1.1 0.5M198.3 314.7l-0.9 0.8M198.7 317.6l0.3 1.2M205.7 318.0l0.5 1.1M202.2 315.6l-0.7 1.0M209.1 322.0l-0.4 1.1M211.7 335.3l-0.6 1.0M208.6 326.0l0.1 1.2M199.2 314.9l-0.8 0.9M198.3 316.9l0.9 0.8M204.2 319.4l-1.0 0.7M214.4 330.9l0.4 1.1M194.0 315.0l0.3 1.2M205.6 318.5l1.2 0.2M190.6 334.7l-1.0 0.6M190.3 336.9l-0.2 1.2M190.5 336.1l-0.5 1.1M194.7 336.7l0.6 1.0M195.9 335.4l1.2 0.2M191.4 337.7l-0.1 1.2M197.8 336.8l-0.0 1.2M194.8 337.6l1.0 0.7M196.3 336.8l-1.0 0.7M188.9 337.4l1.2 0.1M194.4 335.1l-1.1 0.5M194.1 336.9l-1.2 0.3M190.7 337.0l1.1 0.4M191.7 336.4l-1.2 0.2M192.9 334.5l-1.2 0.2M190.0 338.4l0.5 1.1M192.5 337.7l0.2 1.2M197.6 338.0l-1.0 0.7M188.8 337.9l1.2 0.2M187.8 337.7l-1.0 0.7M196.3 338.5l1.2 0.0M197.0 337.1l-0.5 1.1M195.0 335.7l1.2 0.2M190.1 334.4l0.2 1.2M188.9 338.3l-0.7 1.0M188.3 338.2l-0.1 1.2M189.7 338.6l0.5 1.1M193.0 337.7l0.8 0.9M191.6 334.5l1.1 0.3M192.2 337.9l0.7 0.9M192.3 335.0l0.9 0.7M192.6 334.3l0.9 0.8M188.5 336.2l1.1 0.4M191.8 336.2l1.0 0.7M189.7 339.1l0.3 1.1M194.7 336.1l1.1 0.4M193.0 337.5l-0.8 0.9M190.9 338.1l0.7 1.0M198.2 337.6l-0.9 0.8M191.2 339.0l-0.2 1.2" stroke="#2a4399" stroke-width="1.24" stroke-opacity="0.88" stroke-linecap="round" fill="none"/>
<path d="M72.0 392.8l-0.5 1.1M74.6 394.8l0.2 1.2M72.6 391.0l-0.2 1.2M75.3 393.6l-1.2 0.2M74.9 397.1l-1.1 0.4M70.2 390.8l1.1 0.5M75.0 392.8l-1.0 0.7M72.5 390.3l-0.5 1.1M75.7 394.6l1.2 0.2M73.6 391.6l0.5 1.1M76.6 395.3l0.9 0.8M72.4 397.8l1.2 0.3M77.3 397.1l-0.1 1.2M75.1 393.2l-1.2 0.3M74.4 397.0l0.6 1.0M73.3 395.9l-1.1 0.5M77.2 393.9l-0.7 1.0M79.1 393.8l1.1 0.5M77.5 398.3l-1.1 0.5M78.8 396.1l-0.4 1.1M77.0 398.9l-1.2 0.3M75.2 395.6l-0.8 0.9M77.5 396.6l-0.8 0.9M75.2 396.7l0.6 1.1M74.3 390.8l-1.0 0.7M71.6 403.2l-1.2 0.3M77.8 411.8l-1.1 0.5M75.0 410.5l0.2 1.2M77.2 406.2l-0.9 0.8M71.9 404.7l0.1 1.2M77.8 408.0l1.1 0.4M78.1 414.4l1.2 0.2M78.8 411.8l1.2 0.3M75.1 404.6l1.0 0.7M73.9 404.0l1.1 0.6M74.3 407.4l0.0 1.2M72.5 409.3l-0.7 1.0M76.9 406.2l-0.1 1.2M75.4 405.4l0.3 1.2M77.9 406.8l-0.5 1.1M75.2 408.0l0.7 1.0M74.3 402.3l0.1 1.2M74.1 404.1l-0.9 0.8M81.3 412.6l0.4 1.1M76.6 408.8l1.0 0.6M73.5 407.1l-1.1 0.4M72.6 407.1l-0.8 0.9M68.3 401.7l0.5 1.1M74.9 408.2l0.5 1.1M74.6 406.2l-0.1 1.2M80.3 409.0l-0.4 1.1M75.4 403.6l0.9 0.8M80.6 411.6l1.2 0.0M79.4 406.5l1.0 0.7M75.7 406.1l-0.9 0.8M73.9 401.2l1.1 0.5M72.4 407.3l0.2 1.2M78.4 406.1l1.0 0.7M71.1 407.0l0.9 0.7M72.6 406.5l1.0 0.6M72.3 407.9l0.4 1.1M76.6 404.3l1.0 0.6M82.0 410.2l1.2 0.1M81.9 410.3l1.1 0.4M80.2 406.5l1.0 0.6M66.3 412.2l0.0 1.2M63.7 406.5l1.2 0.2M62.9 405.2l1.2 0.1M56.1 409.1l0.2 1.2M60.0 412.0l0.3 1.1M56.1 406.0l-0.7 1.0M61.6 403.9l1.2 0.2M68.1 407.1l0.4 1.1M64.0 410.5l0.4 1.1M66.6 408.2l1.2 0.1M57.9 405.0l-1.2 0.1M61.0 401.3l0.9 0.8M59.8 415.3l1.1 0.4M64.7 412.1l0.1 1.2M62.1 407.6l1.0 0.6M62.6 408.9l-0.5 1.1M56.2 407.7l0.6 1.1M63.4 408.7l1.1 0.5M60.5 416.0l1.2 0.2M63.4 407.7l-0.8 0.9M61.9 412.1l0.8 0.9M60.8 406.5l-0.9 0.7M65.5 409.2l0.1 1.2M59.1 408.7l-1.2 0.3M64.9 410.2l0.7 1.0M58.4 413.8l0.8 0.8M61.3 407.4l0.8 0.9M65.5 406.4l-1.0 0.7M59.5 404.1l-0.5 1.1M55.3 407.6l0.6 1.1M59.7 413.5l1.1 0.3M58.7 412.1l-0.7 1.0M69.9 412.4l-1.2 0.1M66.5 410.9l-0.3 1.1M62.6 411.3l1.2 0.0M57.6 406.7l1.2 0.1M59.0 405.6l1.2 0.3M60.9 409.1l1.0 0.6M63.7 406.5l1.2 0.1M59.9 404.0l1.2 0.2M62.4 413.8l-0.6 1.1M64.4 416.4l-1.1 0.4M66.3 409.6l1.0 0.7M62.9 415.1l-1.2 0.1M60.4 404.5l0.1 1.2M63.4 406.4l-1.0 0.7M65.2 410.7l-1.2 0.3M63.8 408.7l-1.2 0.2M67.2 409.9l1.2 0.1M52.9 414.2l0.7 1.0M58.9 402.5l-0.4 1.1M61.6 413.7l-1.2 0.2M64.4 412.6l1.2 0.3M57.7 401.9l0.7 1.0M64.4 411.9l-1.1 0.5M59.9 407.1l1.1 0.4M64.5 413.1l0.4 1.1M64.3 413.4l0.6 1.0M59.5 416.2l-0.6 1.0M65.8 413.6l-1.2 0.3M53.6 407.6l1.0 0.6M59.5 407.0l-0.8 0.9M65.3 420.5l-0.8 0.9M65.6 408.6l-1.0 0.6M60.8 412.3l-0.2 1.2M64.2 422.0l-1.2 0.3M62.3 420.2l0.5 1.1M63.9 425.3l0.3 1.2M65.5 422.7l0.9 0.8M70.2 427.7l-0.9 0.8M61.8 424.9l0.1 1.2M70.2 426.0l0.8 0.9M68.7 428.3l1.0 0.6M68.7 426.3l-0.8 0.9M69.2 427.7l-0.4 1.1M65.9 424.9l-0.7 0.9M60.3 424.0l0.4 1.1M57.1 420.6l0.0 1.2M61.6 423.8l1.1 0.6M61.2 422.4l-0.7 0.9M70.1 426.9l1.2 0.1M69.1 428.8l0.1 1.2M68.0 428.2l-0.9 0.8M67.4 424.4l-0.6 1.0M69.7 425.8l1.1 0.4M65.8 426.0l0.9 0.8M62.4 421.6l-1.1 0.6M66.5 426.9l-0.5 1.1M68.2 428.4l-1.1 0.4M69.7 428.1l-1.1 0.5M58.1 424.0l0.2 1.2M64.4 424.8l-1.1 0.4M63.8 425.2l-0.8 0.9M57.4 419.1l0.6 1.0M64.7 423.4l0.5 1.1M58.3 425.3l1.2 0.3M56.6 421.2l0.4 1.1M68.2 427.6l-1.2 0.2M60.0 423.6l1.1 0.4M62.8 422.9l-0.3 1.2M75.5 429.7l1.1 0.4M78.6 430.1l1.2 0.3M73.7 429.7l-0.5 1.1M79.1 429.2l0.9 0.8M73.5 429.6l1.2 0.2M76.3 429.7l1.1 0.6M75.8 428.7l-0.5 1.1M81.7 428.7l-0.3 1.2M74.5 429.4l1.2 0.0M79.4 429.9l0.9 0.8M77.2 428.6l-1.2 0.1M77.5 430.0l0.9 0.8M78.7 429.3l-0.2 1.2M76.6 429.8l0.3 1.2M79.2 430.2l-0.9 0.8" stroke="#727272" stroke-width="1.24" stroke-opacity="0.88" stroke-linecap="round" fill="none"/>
<path d="M92.3 400.2l-1.1 0.4M92.0 391.1l1.0 0.6M98.9 411.7l-1.2 0.0M105.0 421.7l-0.6 1.0M85.4 389.6l-0.5 1.1M94.3 408.4l1.1 0.5M96.3 407.3l1.2 0.2M90.1 403.9l-0.9 0.8M93.3 408.3l1.0 0.6M88.7 390.1l1.0 0.7M96.7 409.1l-1.0 0.6M100.6 403.0l-1.1 0.5M89.8 410.3l1.2 0.2M92.0 406.5l-1.2 0.1M102.0 419.8l-0.1 1.2M87.2 390.9l0.4 1.1M100.3 408.8l1.1 0.4M97.9 412.4l0.4 1.1M88.6 406.0l-1.2 0.0M103.8 412.1l0.8 0.9M86.6 415.1l1.1 0.5M99.2 420.6l1.1 0.5M95.3 392.6l1.1 0.5M89.6 394.4l0.5 1.1M85.3 387.2l-1.2 0.3M95.7 404.4l1.2 0.3M93.7 409.8l1.0 0.7M93.7 396.2l-1.2 0.2M91.6 385.2l-1.2 0.0M109.5 416.1l-1.2 0.1M97.7 400.1l0.9 0.8M93.9 400.1l0.5 1.1M98.4 395.9l-1.2 0.2M101.7 397.1l0.1 1.2M94.7 400.4l-0.7 1.0M85.3 391.9l0.7 1.0M94.1 403.4l1.2 0.1M92.4 387.4l0.6 1.1M105.3 408.7l-0.8 0.9M85.2 389.8l-0.9 0.8M98.6 400.8l-0.3 1.2M95.7 403.6l0.1 1.2M94.0 389.8l-0.1 1.2M96.1 394.2l0.2 1.2M87.3 398.1l-0.1 1.2M97.6 412.1l-1.0 0.6M95.3 405.5l1.0 0.7M96.0 410.1l-0.4 1.1M96.2 390.0l-1.2 0.3M104.1 411.2l-1.1 0.6M95.9 403.2l1.0 0.6M88.6 405.6l-1.2 0.1M93.9 393.5l-1.1 0.6M100.1 416.4l1.0 0.6M90.6 398.6l0.8 0.9M99.4 400.2l1.0 0.7M91.1 395.7l1.2 0.2M102.6 406.0l-1.2 0.1M94.1 404.2l0.3 1.2M91.7 402.8l-1.1 0.5M93.8 406.5l1.1 0.4M88.7 408.5l1.2 0.1M105.4 412.0l-1.1 0.5M94.2 389.5l-1.0 0.7M99.0 396.5l-1.2 0.0M100.4 391.8l-0.7 1.0M93.0 397.2l-0.1 1.2M90.0 397.5l-0.9 0.8M86.5 391.5l1.1 0.3M82.2 388.3l-0.2 1.2M94.6 407.1l0.2 1.2M81.0 396.7l1.1 0.5M86.1 392.5l-0.4 1.1M92.2 393.5l0.6 1.0M94.4 391.7l-0.0 1.2" stroke="#35bde6" stroke-width="1.24" stroke-opacity="0.88" stroke-linecap="round" fill="none"/>
<path d="M45.9 423.2l-0.7 1.0M44.7 426.0l1.2 0.0M51.9 427.4l0.8 0.9M44.4 421.7l-0.7 1.0M46.8 426.7l1.0 0.6M44.5 426.3l1.2 0.1M46.7 424.4l-0.1 1.2M47.4 427.7l0.6 1.0M54.6 425.4l-1.2 0.1M45.9 425.9l1.1 0.4M41.8 424.2l-1.0 0.7M51.9 426.8l0.4 1.1M46.2 428.7l-1.0 0.7M45.3 422.3l0.2 1.2M48.2 427.7l-0.6 1.0M46.0 427.6l0.6 1.0M49.7 423.7l0.9 0.8M44.4 424.6l0.2 1.2M46.4 423.8l-1.0 0.7M49.1 427.7l0.6 1.1M48.0 422.0l0.9 0.8M43.2 423.6l0.3 1.2M48.3 422.1l1.1 0.4M41.2 423.2l0.7 1.0M47.9 428.0l-0.3 1.2M47.8 426.5l-0.2 1.2M52.0 427.3l-0.4 1.1M52.6 424.2l0.7 0.9M49.2 422.1l1.2 0.1M51.9 424.2l1.2 0.1M46.6 427.8l0.6 1.0M43.8 422.4l1.0 0.7M51.9 425.4l-0.3 1.2M51.5 422.2l0.8 0.9M44.6 423.9l-0.9 0.8M47.6 424.1l-0.4 1.1M49.3 425.9l-0.6 1.0M46.8 421.5l-0.8 0.9M41.6 424.1l-0.1 1.2M46.9 424.0l0.3 1.2M44.6 424.0l0.7 1.0M47.8 428.1l1.2 0.2M43.6 424.0l-1.0 0.7M41.6 425.7l-0.0 1.2M47.0 425.6l1.1 0.4M42.4 429.3l-1.2 0.3M47.9 433.8l-0.3 1.2M49.0 429.3l-0.5 1.1M48.5 428.6l0.2 1.2M44.6 434.5l1.1 0.5M43.2 431.8l-1.2 0.0M49.5 430.1l1.0 0.6M52.0 434.3l0.5 1.1M54.2 433.4l-1.2 0.0M46.6 429.8l1.1 0.4M43.5 433.9l0.0 1.2M43.8 433.5l0.1 1.2M54.1 430.3l0.9 0.8M44.4 428.9l-1.2 0.3M41.0 431.0l0.3 1.2M45.8 434.3l1.2 0.0M46.6 430.1l0.1 1.2M42.7 429.5l1.2 0.0M44.9 432.6l-0.7 1.0M46.3 428.2l-1.1 0.5M44.5 430.9l-1.1 0.4M48.6 429.4l1.2 0.2M51.5 428.8l-0.6 1.0M50.4 431.9l0.7 1.0M43.2 433.0l0.1 1.2M46.2 431.4l0.7 1.0M49.3 432.1l0.7 1.0M46.8 427.8l1.1 0.5M52.8 433.9l-0.5 1.1M47.5 432.0l1.2 0.3M45.2 434.7l-1.2 0.1M50.4 429.2l1.2 0.2M48.5 428.9l-1.2 0.1M51.0 429.9l1.0 0.7M51.2 432.1l1.2 0.3M42.6 431.3l-0.8 0.9M53.6 430.8l-0.1 1.2M49.2 434.1l-0.9 0.8M47.4 430.9l-0.0 1.2M49.7 433.6l-0.5 1.1M51.6 431.8l1.2 0.3M45.5 434.2l-0.6 1.0M54.1 431.3l-0.0 1.2M52.6 429.8l-1.2 0.1M51.2 430.3l1.2 0.0M47.3 432.0l1.2 0.3M44.7 432.6l-0.6 1.0M49.7 430.5l-1.2 0.3M42.1 431.4l0.3 1.2M45.8 432.9l-0.7 0.9M43.3 430.1l-0.2 1.2M43.3 430.2l0.4 1.1M49.3 427.8l0.1 1.2M41.6 430.8l-0.4 1.1M43.0 431.5l1.2 0.1M50.1 440.2l0.7 1.0M55.1 437.6l-0.8 0.9M48.3 434.6l0.8 0.9M47.1 436.1l0.1 1.2M55.3 437.3l0.8 0.9M48.9 435.8l0.5 1.1M51.2 437.4l-0.5 1.1M46.6 435.7l-0.8 0.9M53.6 440.5l-1.2 0.2M44.8 438.6l0.1 1.2M52.7 435.8l1.0 0.7M49.2 440.5l0.6 1.0M47.2 439.5l1.2 0.2M45.3 438.6l0.9 0.8M47.2 437.4l-0.3 1.2M48.6 439.8l-0.4 1.1M52.7 437.5l0.9 0.8M51.9 437.1l1.0 0.6M53.3 436.1l1.1 0.4M50.1 438.2l1.0 0.6M48.6 434.3l-0.0 1.2M45.4 438.4l0.8 0.9M46.9 439.4l-1.1 0.4M50.2 440.3l-0.2 1.2M54.1 438.9l0.6 1.1M48.2 434.3l0.3 1.2M50.1 439.4l1.2 0.2M53.4 437.4l-0.8 0.9M53.5 435.2l-0.9 0.8M50.3 438.5l0.5 1.1M51.7 435.2l-0.8 0.9M45.0 438.3l0.8 0.9M53.2 436.8l0.9 0.8M49.0 440.7l0.9 0.8M50.9 436.0l1.0 0.7" stroke="#e3171f" stroke-width="1.24" stroke-opacity="0.88" stroke-linecap="round" fill="none"/>
<path d="M58.6 422.6l0.3 1.2M57.6 421.6l-0.8 0.9M56.6 424.2l1.2 0.3M56.6 425.1l-1.2 0.3M61.1 424.8l1.2 0.1M63.3 423.6l-1.2 0.1M63.8 427.5l0.9 0.8M64.0 426.8l-1.0 0.6M62.1 428.4l-1.0 0.6M62.0 426.1l-1.2 0.2M58.4 422.0l0.1 1.2M55.6 424.9l-0.7 1.0M61.1 424.0l0.7 1.0M55.9 426.5l-1.0 0.6M60.2 425.5l1.1 0.4M59.1 427.2l-1.1 0.4M59.1 422.7l-0.3 1.1M58.1 425.9l1.2 0.2M59.1 425.8l-1.2 0.2M59.7 420.8l0.7 1.0M60.8 424.8l1.2 0.3M57.8 424.4l0.8 0.9M64.6 424.1l1.2 0.1M60.7 425.4l0.8 0.9M58.0 422.4l-0.7 0.9M66.2 440.9l-1.2 0.0M71.6 450.0l-0.5 1.1M62.8 433.2l-1.1 0.5M63.2 441.1l-1.0 0.6M66.1 441.5l-0.7 0.9M59.2 430.3l0.4 1.1M61.5 437.2l0.8 0.9M61.8 441.7l1.1 0.6M63.9 445.2l-0.2 1.2M68.6 453.9l1.0 0.7M65.0 450.2l-0.8 0.9M70.8 450.4l0.6 1.0M65.6 448.7l-0.3 1.2M64.2 444.2l-0.2 1.2M62.5 451.9l-0.5 1.1M59.9 448.7l1.1 0.6M63.5 436.7l0.8 0.9M75.2 452.9l-0.7 1.0M65.8 441.2l0.9 0.7M76.2 446.8l-0.6 1.0M74.6 445.8l-1.2 0.1M60.4 431.8l0.4 1.1M74.1 445.5l-1.2 0.1M70.6 451.9l-0.4 1.1M61.1 433.3l-1.2 0.2M60.8 432.0l-0.1 1.2M69.8 454.5l-0.9 0.8M72.9 453.9l-0.7 1.0M72.7 449.9l1.0 0.7M68.5 450.2l-0.1 1.2M70.9 453.6l-0.3 1.2M66.1 450.9l0.1 1.2M68.8 456.2l-0.6 1.1M61.2 447.5l-1.2 0.3M61.4 431.5l-1.0 0.7M73.3 451.4l-1.0 0.7M63.6 434.9l1.1 0.5M61.1 444.8l-0.7 1.0M62.8 445.3l-0.5 1.1M72.8 453.6l-1.2 0.2M71.5 444.4l1.2 0.0M65.8 445.5l1.0 0.6M65.5 439.7l-1.2 0.1M62.2 457.7l0.5 1.1M64.6 455.2l-0.7 1.0M64.2 452.0l-0.3 1.2M60.1 450.9l0.4 1.1M63.2 435.1l0.2 1.2M75.6 451.1l-0.2 1.2M64.1 446.6l-1.2 0.1M65.8 441.9l-0.1 1.2M67.3 453.0l-0.9 0.7M65.0 436.7l0.7 1.0M64.8 455.5l-0.7 0.9M73.7 451.5l-0.4 1.1M63.6 447.5l-0.8 0.9M72.8 454.1l-1.1 0.4M63.6 453.7l1.2 0.3M71.7 449.9l-1.2 0.1M57.5 432.3l-0.4 1.1M64.1 451.6l0.8 0.9M58.9 432.9l0.1 1.2M71.2 449.6l1.1 0.4M68.9 452.9l0.9 0.8M73.0 460.4l-1.0 0.6M61.6 437.0l-0.7 0.9M74.9 447.2l-1.1 0.5M58.2 437.3l1.0 0.6M62.2 431.1l1.1 0.4M71.3 443.7l0.4 1.1M71.8 446.6l0.0 1.2M63.0 438.4l-0.7 0.9M59.7 431.8l0.7 1.0M73.6 445.7l-0.8 0.9M75.1 450.7l-0.3 1.2M60.9 445.8l0.7 0.9M73.1 444.0l-0.9 0.7M67.0 456.0l1.2 0.3M72.4 450.8l-0.3 1.2M62.6 442.9l1.0 0.7M75.5 449.1l1.2 0.2M64.6 451.9l0.1 1.2M68.1 447.7l-0.1 1.2M69.0 449.9l-0.4 1.1M64.0 432.4l0.5 1.1M72.6 442.4l-1.2 0.3M62.7 436.5l-0.9 0.8M67.5 451.1l1.1 0.6M62.2 448.8l1.2 0.0M66.5 456.5l-1.2 0.1M62.1 445.1l0.3 1.2M68.1 440.6l1.1 0.4M71.0 454.3l1.0 0.6M72.4 450.2l-0.7 1.0M62.2 435.5l1.0 0.6M62.0 443.2l0.5 1.1M67.7 448.1l-0.6 1.0M55.6 432.1l0.5 1.1M64.2 452.1l-0.6 1.1M59.6 429.5l-1.2 0.2M64.9 456.1l-1.0 0.7M59.7 434.5l-0.5 1.1M73.5 444.3l-0.5 1.1M69.3 454.5l0.7 1.0M64.8 433.0l-0.5 1.1M75.6 454.6l-0.5 1.1M55.5 430.3l-0.3 1.2M55.0 434.9l0.0 1.2M65.2 458.4l-0.9 0.8M65.6 442.6l1.0 0.7M60.8 433.3l-0.7 0.9M64.5 438.9l-1.2 0.1M66.1 449.8l1.2 0.1M64.1 439.5l0.8 0.9M64.7 452.0l-1.2 0.1M69.3 446.0l1.2 0.3M58.3 432.7l-1.0 0.6M73.7 453.3l-0.3 1.2M74.4 458.2l1.2 0.3M67.3 445.6l-0.5 1.1M63.0 435.9l1.2 0.0M67.1 439.4l-1.1 0.5M63.4 456.1l0.7 1.0M62.7 437.9l-1.2 0.3M66.8 442.2l-1.1 0.4M61.7 439.1l1.1 0.5M64.5 439.9l0.4 1.1M69.6 446.7l1.1 0.6M66.0 444.4l-0.9 0.8M66.9 455.1l1.1 0.4M75.2 449.7l1.2 0.3M68.6 449.4l1.1 0.4M67.7 453.0l-1.1 0.5M59.0 432.7l0.9 0.8M67.6 452.3l0.6 1.0M65.1 448.1l0.2 1.2M67.6 434.7l-0.2 1.2M66.5 442.8l0.3 1.2M74.1 446.7l-1.2 0.2M66.8 454.8l0.6 1.1" stroke="#4cb443" stroke-width="1.24" stroke-opacity="0.88" stroke-linecap="round" fill="none"/>
<path d="M73.9 418.0l1.0 0.7M71.6 414.2l-0.2 1.2M78.2 421.8l-0.3 1.2M74.9 419.5l0.5 1.1M73.1 419.7l-1.1 0.5M72.4 415.7l-1.1 0.5M73.0 418.2l-0.7 1.0M72.9 419.8l-0.1 1.2M78.8 421.3l-0.7 1.0M72.0 416.0l1.0 0.7M68.8 413.3l-1.0 0.7M77.7 423.4l1.1 0.5M68.1 420.3l-1.1 0.4M76.6 421.6l-0.5 1.1M76.3 423.2l0.8 0.9M76.3 422.3l1.0 0.7M74.8 417.7l-0.4 1.1M72.2 415.0l0.1 1.2M80.7 421.8l-0.7 1.0M76.0 424.4l1.1 0.4M72.7 420.5l-1.1 0.5M73.1 420.8l0.3 1.2M76.3 420.7l0.2 1.2M73.5 417.9l-0.8 0.9M69.0 418.3l-0.4 1.1M72.8 415.8l0.2 1.2M77.8 425.3l0.7 1.0M71.5 416.8l0.1 1.2M70.6 417.9l1.2 0.1M69.8 420.7l0.8 0.9M67.3 416.6l-1.0 0.6M73.6 426.5l1.1 0.4M69.7 415.5l1.2 0.3M74.6 417.6l-1.1 0.6M71.7 416.1l0.5 1.1M68.9 413.2l-0.1 1.2M75.6 421.3l-0.3 1.2M75.9 423.5l-0.8 0.9M74.3 419.9l0.6 1.0M70.2 418.0l-0.9 0.8M74.2 437.0l1.2 0.0M80.8 443.4l-1.1 0.6M74.1 437.7l0.7 1.0M79.4 442.9l-0.5 1.1M84.2 441.9l0.7 1.0M74.7 439.5l-0.8 0.9M74.5 438.6l0.5 1.1M75.4 435.0l-0.4 1.1M74.6 438.9l0.6 1.0M83.3 441.0l-1.0 0.6M75.5 442.5l-0.9 0.8M79.1 441.4l1.0 0.7M76.1 439.1l-0.9 0.8M73.1 436.7l-1.2 0.2M78.0 440.8l0.9 0.8M79.2 441.9l1.0 0.7M78.1 438.7l-1.2 0.3M84.1 441.6l-1.2 0.1M73.9 438.6l1.1 0.5M76.9 437.9l-0.9 0.8M75.9 440.4l-1.2 0.3M78.1 443.0l0.8 0.9M73.6 438.5l-0.9 0.8M70.8 436.5l0.7 1.0M75.2 440.8l-0.9 0.7M76.9 439.3l-0.0 1.2M76.6 439.9l0.1 1.2M76.0 440.2l1.1 0.5M81.0 440.9l-0.6 1.1M80.6 437.2l-0.7 1.0M73.2 435.5l0.7 0.9M76.1 434.6l1.2 0.2M76.3 437.7l1.2 0.3M76.7 437.0l0.8 0.9M82.2 441.0l-1.2 0.0" stroke="#e8898c" stroke-width="1.24" stroke-opacity="0.88" stroke-linecap="round" fill="none"/>
<path d="M86.2 426.2l1.0 0.7M83.1 415.2l-1.1 0.4M88.4 430.5l-0.4 1.1M85.1 423.2l-1.1 0.4M86.8 419.9l-0.1 1.2M85.1 411.0l0.0 1.2M85.9 416.6l0.8 0.9M82.8 418.0l1.2 0.2M87.1 434.2l-1.2 0.2M87.5 409.4l0.9 0.8M83.4 425.7l1.2 0.3M84.3 434.7l-1.2 0.3M85.4 417.4l-0.1 1.2M86.4 418.6l-0.3 1.2M86.5 422.1l-1.2 0.3M82.6 425.0l-0.8 0.9M82.3 428.0l0.8 0.9M88.9 413.4l0.8 0.9M85.3 422.3l-0.6 1.1M86.7 426.0l-0.6 1.0M83.1 421.5l0.9 0.8M84.5 424.0l0.8 0.8M85.3 422.1l-0.0 1.2M85.6 421.0l1.2 0.2M86.9 431.6l-1.0 0.7M85.3 426.2l-0.6 1.1M82.9 429.2l1.1 0.5M85.1 405.2l-0.3 1.2M87.2 410.0l-0.3 1.2M85.4 413.1l1.2 0.3M82.0 423.0l0.3 1.2M83.3 431.8l-1.0 0.7M82.9 426.3l0.2 1.2M85.7 431.2l-0.8 0.9M83.0 420.4l0.9 0.8M82.5 409.7l-1.2 0.0M87.8 410.8l-0.6 1.0M85.7 433.1l-0.2 1.2M89.4 411.2l1.2 0.0M82.4 428.3l0.5 1.1M85.4 426.3l1.2 0.0M88.3 412.0l0.2 1.2M84.5 423.6l1.0 0.6M79.8 427.3l0.9 0.8M83.2 424.1l0.7 1.0M94.9 421.3l1.1 0.5M99.4 431.1l0.8 0.9M101.4 429.4l-0.0 1.2M92.7 421.6l1.1 0.5M100.2 423.5l-0.2 1.2M91.3 419.0l-1.2 0.2M101.2 424.1l-0.8 0.9M99.8 424.8l-1.2 0.2M91.1 428.0l1.1 0.4M90.8 425.2l-0.6 1.1M98.2 424.6l0.9 0.8M98.3 426.7l-1.2 0.2M90.7 422.4l0.0 1.2M92.2 421.8l-0.8 0.9M98.2 425.3l-0.9 0.8M94.5 422.5l1.1 0.5M97.0 429.0l1.1 0.4M99.5 430.8l-1.0 0.7M101.5 426.7l-1.0 0.6M87.0 423.7l0.2 1.2M98.2 429.5l1.2 0.1M93.7 423.0l1.2 0.1M92.1 455.9l-1.0 0.7M89.6 456.4l-0.7 1.0M87.5 456.9l0.5 1.1M90.5 453.2l-0.6 1.0M79.2 451.1l-1.0 0.7M87.0 454.1l1.2 0.0M85.1 455.0l-0.8 0.9M83.9 455.3l-1.2 0.1M97.5 452.4l-1.1 0.5M79.0 456.3l-1.1 0.4M81.7 450.5l0.2 1.2M90.5 451.2l-0.4 1.1M86.7 445.2l1.1 0.4M92.3 451.8l-1.0 0.7M85.1 454.5l-0.6 1.1M81.2 451.3l0.4 1.1M83.9 447.1l1.2 0.2M88.7 454.8l1.0 0.6M87.2 452.2l0.4 1.1M82.4 453.5l-1.2 0.3M86.9 452.9l0.1 1.2M94.1 455.3l-1.1 0.5M80.7 454.3l1.0 0.7M77.6 451.4l0.8 0.9M84.6 448.6l0.9 0.8M83.4 448.0l0.7 0.9M85.4 452.4l-1.0 0.7M88.8 451.0l0.5 1.1M87.5 450.9l0.6 1.0M91.2 454.8l-0.6 1.0M101.3 441.1l0.2 1.2M107.8 447.0l-1.1 0.4M99.4 435.0l-0.7 1.0M109.4 456.3l-1.0 0.6M100.5 441.2l0.3 1.2M106.7 449.6l0.4 1.1M99.0 442.2l0.2 1.2M96.1 439.3l-1.2 0.0M112.8 442.7l-1.2 0.2M97.9 435.4l-0.3 1.2M103.2 446.1l0.0 1.2M103.0 443.2l1.2 0.3M110.0 446.6l-1.1 0.5M108.8 447.3l-0.4 1.1M104.7 442.5l0.3 1.2M103.9 445.4l1.0 0.6M92.8 442.9l0.1 1.2M106.2 434.4l-0.7 1.0M99.8 432.4l0.8 0.9M102.6 445.5l0.8 0.9M99.3 442.7l-0.0 1.2M102.7 442.1l0.0 1.2M90.8 438.8l1.2 0.0M99.2 438.9l1.2 0.2M100.0 447.3l0.5 1.1M103.5 445.6l-0.7 1.0M98.7 434.9l0.4 1.1M96.9 439.7l1.2 0.1M97.7 444.7l0.9 0.8M114.1 449.9l1.0 0.7M106.2 436.2l-0.9 0.8M96.5 440.6l0.9 0.8M108.1 439.8l-1.2 0.1M101.9 450.6l0.7 0.9M97.5 443.3l1.0 0.6M102.3 448.8l1.2 0.1M104.1 438.8l0.0 1.2M97.3 439.4l-0.1 1.2M107.1 446.4l-0.9 0.8M89.2 440.2l-0.6 1.0M98.5 437.0l-0.2 1.2M104.9 449.1l1.2 0.2M103.9 446.7l-1.2 0.3M90.5 440.7l0.9 0.8M100.7 443.6l0.9 0.8" stroke="#2a4399" stroke-width="1.24" stroke-opacity="0.88" stroke-linecap="round" fill="none"/>
<path d="M192.8 388.1l-1.2 0.2M195.4 388.6l-1.2 0.2M189.8 390.7l-0.7 1.0M201.5 389.3l-1.2 0.1M196.6 389.8l1.2 0.2M202.5 395.1l-1.1 0.4M201.8 388.6l-0.7 1.0M193.7 393.0l-0.6 1.0M200.9 395.5l-1.1 0.6M197.7 393.7l1.1 0.4M196.2 388.5l1.0 0.7M195.6 387.7l1.1 0.5M197.3 389.5l0.1 1.2M203.3 392.3l-0.2 1.2M196.8 390.7l-0.2 1.2M197.9 390.9l0.5 1.1M191.4 389.8l-0.8 0.9M189.6 393.2l-1.0 0.6M193.4 392.1l-0.9 0.8M195.5 390.5l1.2 0.1M194.6 388.9l1.1 0.6M198.3 389.5l0.9 0.8M193.7 394.3l0.9 0.8M193.7 392.2l-0.3 1.2M200.4 393.0l1.0 0.7M192.5 389.9l-0.5 1.1M191.0 391.2l0.6 1.1M188.8 393.6l0.5 1.1M195.4 396.2l-0.7 1.0M199.1 395.3l-1.2 0.2M192.7 388.7l1.0 0.7M195.4 387.9l0.6 1.1M195.2 396.8l-1.2 0.1M200.7 390.4l0.9 0.7M192.5 388.0l1.2 0.1M203.9 391.1l1.0 0.7M200.0 388.3l-1.0 0.6M189.4 391.6l-0.8 0.9M191.0 392.4l-1.2 0.2M201.0 390.7l0.0 1.2M203.9 391.9l1.2 0.2M192.0 390.8l0.7 1.0M189.3 390.9l-0.8 0.9M192.2 395.6l0.4 1.1M201.4 391.9l1.1 0.5M192.1 388.7l0.5 1.1M192.1 395.4l0.1 1.2M203.3 392.3l0.5 1.1M203.0 393.2l0.2 1.2M200.8 394.4l1.1 0.5M195.9 388.0l1.2 0.1M192.3 395.6l-0.9 0.8M194.3 393.3l-0.8 0.9M201.3 393.1l0.3 1.2M201.1 392.3l1.1 0.4M198.7 393.6l0.7 1.0M192.9 395.9l-0.2 1.2M199.9 387.3l-1.1 0.4M204.2 393.3l0.1 1.2M199.4 392.8l-1.2 0.1M200.6 395.9l-0.1 1.2M201.1 394.7l1.0 0.6M202.9 392.1l-0.4 1.1M202.9 388.6l-0.4 1.1M199.5 389.9l-0.4 1.1M203.3 394.5l-0.8 0.9M195.5 392.4l1.2 0.1M198.0 391.5l0.2 1.2M203.0 392.9l-1.0 0.7M190.1 390.5l1.1 0.5M200.3 392.3l1.2 0.2M196.8 390.6l1.0 0.7M200.9 389.8l0.7 0.9M192.1 391.5l0.2 1.2M189.9 392.9l0.7 1.0M209.0 406.3l-0.5 1.1M211.4 405.3l1.0 0.6M212.4 408.8l0.6 1.1M207.3 408.3l-0.6 1.0M206.2 396.0l-0.2 1.2M202.5 397.7l-1.2 0.2M214.2 399.0l-1.2 0.2M200.8 399.2l0.8 0.9M208.1 397.3l0.6 1.0M203.8 402.0l-0.1 1.2M208.3 390.8l-0.2 1.2M208.3 398.9l0.5 1.1M210.1 397.4l-1.1 0.5M209.5 412.7l1.0 0.7M208.8 402.9l0.1 1.2M204.2 394.6l1.1 0.4M211.9 404.3l-1.1 0.4M205.3 395.4l-0.4 1.1M209.9 410.1l-1.2 0.0M205.8 398.6l1.1 0.5M210.0 399.1l-0.7 0.9M209.5 405.1l-0.4 1.1M209.3 397.2l1.2 0.2M213.7 400.9l-1.0 0.6M214.9 411.2l-1.1 0.5M202.5 398.0l1.2 0.3M213.1 404.7l-1.2 0.2M208.8 398.7l-0.9 0.8M211.7 400.2l-0.4 1.1M208.9 409.4l-0.2 1.2M210.8 404.4l0.8 0.9M203.2 402.0l1.2 0.2M214.8 406.5l0.1 1.2M209.5 397.8l-1.1 0.5M209.5 400.1l1.0 0.7M208.4 397.3l0.1 1.2M211.0 398.2l0.8 0.9M212.1 400.5l-0.7 1.0M216.5 406.7l-1.2 0.2M209.2 400.4l-1.1 0.4M210.7 395.3l0.7 0.9M212.4 406.6l0.3 1.2M207.6 398.6l1.2 0.0M209.8 401.7l-0.1 1.2M212.6 411.5l-1.1 0.5M205.8 397.9l-1.1 0.6M207.0 400.0l1.2 0.3M210.9 414.1l0.2 1.2M209.7 399.8l1.2 0.3M215.5 404.4l0.3 1.2M208.9 397.4l-1.2 0.3M207.8 401.3l0.8 0.9M211.1 406.3l-1.1 0.6M207.0 396.2l-1.2 0.2M205.9 394.5l-1.0 0.6M205.7 415.3l1.0 0.7M211.4 408.8l-1.2 0.3M215.4 424.0l-1.2 0.3M214.2 419.7l-1.2 0.0M205.3 417.8l1.2 0.0M212.6 404.1l1.2 0.0M216.3 416.1l0.7 1.0M211.0 410.2l-0.1 1.2M212.8 419.3l0.3 1.2M211.6 425.5l1.1 0.3M213.0 421.1l-0.5 1.1M210.8 422.8l-0.6 1.0M209.3 423.3l-0.5 1.1M208.0 421.7l-0.0 1.2M217.5 418.1l-0.2 1.2M210.1 414.9l-0.7 1.0M211.4 416.5l1.2 0.2M209.3 406.7l0.2 1.2M207.7 415.7l1.1 0.5M212.6 413.7l1.1 0.4M213.4 420.6l-0.9 0.8M215.2 420.0l0.6 1.0M212.4 405.4l0.6 1.1M214.3 418.2l0.8 0.9M209.2 409.1l-0.3 1.2M210.8 411.5l1.1 0.4M212.0 422.8l-0.5 1.1M212.4 418.4l1.2 0.3M214.8 418.0l-1.2 0.2M206.3 409.0l1.1 0.6M210.3 419.6l-0.9 0.8M215.1 404.7l-0.2 1.2M208.6 410.0l0.3 1.2M211.5 415.9l0.7 1.0M210.2 420.7l0.5 1.1M210.8 411.0l-0.9 0.8M216.4 424.9l-0.1 1.2M211.7 409.5l-0.1 1.2M211.0 415.7l0.9 0.8M213.5 416.4l-0.5 1.1M207.8 412.7l1.0 0.6M215.2 424.4l0.1 1.2M218.1 425.2l-0.5 1.1M205.1 411.3l-0.2 1.2M217.9 423.9l-0.3 1.2M209.4 410.5l-0.3 1.2M212.2 421.5l1.0 0.7M210.0 411.4l-1.2 0.2M212.6 421.2l-0.7 1.0M215.5 424.4l-0.8 0.9" stroke="#35bde6" stroke-width="1.24" stroke-opacity="0.88" stroke-linecap="round" fill="none"/>
<path d="M186.9 411.5l0.5 1.1M185.8 398.8l-1.2 0.2M186.2 399.7l1.2 0.3M183.5 398.9l-0.0 1.2M188.6 393.9l0.1 1.2M186.6 396.1l1.0 0.6M182.0 394.1l0.6 1.1M179.8 392.9l0.5 1.1M187.8 403.4l0.5 1.1M187.0 395.5l-0.2 1.2M181.5 397.2l-0.2 1.2M188.9 398.6l0.1 1.2M181.8 394.1l0.2 1.2M185.9 413.3l-0.4 1.1M190.7 401.4l0.1 1.2M186.2 397.5l1.1 0.5M187.6 394.7l-0.6 1.1M190.1 399.4l0.3 1.2M189.5 406.5l-1.1 0.5M186.9 398.8l1.1 0.5M187.3 398.2l-0.2 1.2M189.6 401.4l0.7 1.0M184.2 392.9l-0.5 1.1M188.7 397.9l-1.0 0.6M193.9 406.0l-0.5 1.1M189.0 405.7l-0.3 1.2M192.4 403.8l-1.2 0.3M190.4 402.5l0.9 0.8M191.5 398.6l-1.2 0.0M188.4 401.9l0.2 1.2M179.3 395.8l-0.5 1.1M184.4 398.7l1.1 0.5M191.9 411.9l1.2 0.1M178.4 389.8l1.1 0.6M188.0 398.0l-0.2 1.2M181.1 396.1l0.9 0.8M187.3 404.3l-1.0 0.7M189.0 407.9l1.1 0.6M192.5 409.8l-0.6 1.0M183.7 397.4l-1.1 0.4M192.8 404.9l-0.7 1.0M190.1 407.7l-1.2 0.3M183.3 394.4l-1.0 0.6M184.9 392.2l-1.1 0.5M189.2 398.3l1.2 0.1M175.3 419.5l-0.0 1.2M168.2 415.5l0.7 1.0M168.9 406.3l0.2 1.2M173.6 413.6l-0.8 0.9M175.4 417.5l-0.8 0.9M172.1 404.7l1.0 0.7M171.4 416.7l1.0 0.6M176.9 413.4l1.2 0.3M178.3 407.2l-0.8 0.9M175.7 405.2l-1.0 0.6M177.4 407.2l1.2 0.3M174.2 401.2l1.1 0.5M177.1 409.5l1.1 0.5M179.4 411.7l-1.2 0.0M166.1 412.5l1.2 0.3M169.6 411.4l-0.3 1.2M171.3 417.0l-1.1 0.5M168.5 415.8l1.0 0.6M166.2 405.9l-0.7 1.0M181.6 409.7l0.6 1.1M180.1 416.1l-0.5 1.1M176.9 404.0l0.1 1.2M180.9 411.2l1.1 0.5M168.7 413.4l-1.1 0.4M178.4 413.1l-0.0 1.2M173.6 416.9l-1.2 0.1M175.8 412.7l-0.4 1.1M168.6 415.6l-1.2 0.2M178.0 406.4l-0.6 1.1M165.3 405.1l1.2 0.2M170.3 415.4l1.2 0.0M170.1 415.8l-1.2 0.0M171.0 414.9l-0.6 1.0M180.7 415.6l-1.0 0.7M167.2 418.9l-1.0 0.6M177.7 403.3l0.5 1.1M171.1 402.3l-0.7 1.0M166.8 409.4l-0.5 1.1M177.1 410.0l1.2 0.2M168.8 406.7l-0.1 1.2M169.4 417.6l-1.2 0.3M166.5 410.7l-0.2 1.2M170.0 416.6l-0.9 0.7M165.6 401.8l1.2 0.3M170.8 413.5l0.3 1.2M180.6 410.2l-0.0 1.2M173.7 406.0l-0.2 1.2M180.4 415.9l-1.1 0.6M169.7 405.4l0.0 1.2M173.9 403.5l-0.2 1.2M167.0 405.2l-0.1 1.2M175.1 407.6l-0.6 1.0M179.2 415.3l-0.3 1.2M167.5 404.2l0.4 1.1M173.4 417.2l0.7 0.9M175.5 415.6l-1.1 0.5M175.1 418.9l0.5 1.1M176.0 420.2l-0.7 0.9M174.0 418.0l0.8 0.9M167.8 419.4l-1.2 0.0M180.6 415.8l0.9 0.8M174.9 421.5l0.3 1.2M172.1 416.8l0.5 1.1M177.2 419.5l-1.1 0.5M170.4 414.8l-0.8 0.9M170.3 416.4l0.8 0.9M181.2 419.8l0.9 0.8M171.9 419.1l-0.8 0.9M185.0 420.2l0.2 1.2M177.2 416.1l1.0 0.6M181.1 418.1l1.1 0.4M182.9 419.0l-0.8 0.9M180.8 415.6l-0.6 1.0M175.3 418.5l-1.0 0.7M173.3 419.2l1.2 0.3M178.2 420.0l0.1 1.2M170.9 417.7l1.1 0.5M183.6 436.6l-0.3 1.2M171.2 429.5l0.9 0.8M174.5 431.1l0.9 0.8M177.4 424.3l-0.2 1.2M175.3 429.5l1.0 0.6M179.0 431.3l-1.0 0.7M183.5 427.3l1.0 0.6M174.8 424.4l0.8 0.9M183.0 433.7l-0.9 0.8M181.4 432.8l0.8 0.9M177.4 433.5l0.7 1.0M178.9 431.6l-0.9 0.8M187.1 429.4l-0.2 1.2M175.7 429.9l-1.0 0.7M178.1 428.1l-1.1 0.5M188.4 428.9l-1.2 0.1M183.8 429.8l1.2 0.3M185.6 432.8l0.4 1.1M180.6 430.7l0.2 1.2M182.2 432.0l0.7 0.9" stroke="#727272" stroke-width="1.24" stroke-opacity="0.88" stroke-linecap="round" fill="none"/>
<path d="M162.1 428.3l-0.8 0.9M153.8 432.8l1.0 0.7M160.8 430.1l-1.0 0.6M161.6 426.9l1.2 0.0M152.2 424.7l1.1 0.4M149.3 430.3l1.1 0.3M159.8 424.5l-0.9 0.7M154.5 429.3l1.2 0.3M164.1 430.1l-0.8 0.9M160.2 425.3l1.0 0.7M148.8 432.8l0.7 1.0M155.2 431.1l1.1 0.4M157.9 427.5l-1.0 0.7M157.9 428.2l0.5 1.1M157.3 434.6l-1.2 0.3M152.3 435.2l-0.7 1.0M147.8 428.7l-0.2 1.2M149.3 423.9l0.1 1.2M154.9 435.4l-0.2 1.2M148.9 435.7l-0.3 1.2M160.4 425.2l-1.2 0.1M158.6 431.7l0.9 0.8M150.8 435.9l1.0 0.6M152.9 437.2l-1.2 0.0M162.2 428.3l-0.7 1.0M149.1 436.1l-0.5 1.1M161.8 425.2l0.1 1.2M150.5 428.7l1.2 0.0M158.7 424.6l0.9 0.8M152.6 422.2l-1.0 0.7M150.6 434.9l0.8 0.9M157.9 432.0l-0.4 1.1M151.4 432.7l0.0 1.2M152.3 439.4l1.0 0.6M158.7 434.0l1.2 0.2M162.4 429.4l1.2 0.2M152.8 429.1l-0.7 0.9M158.9 436.4l0.9 0.8M157.6 435.6l-0.0 1.2M158.3 435.4l-0.3 1.2M149.2 436.6l-0.9 0.8M155.3 427.2l1.1 0.6M148.7 432.2l0.3 1.2M150.8 427.7l-0.9 0.8M156.4 424.7l-0.6 1.0M152.6 436.3l0.1 1.2M151.1 425.8l-0.5 1.1M149.4 432.4l-0.9 0.7" stroke="#e3171f" stroke-width="1.24" stroke-opacity="0.88" stroke-linecap="round" fill="none"/>
<path d="M170.5 423.5l-0.9 0.8M164.6 419.7l-1.1 0.5M166.7 421.6l1.1 0.5M165.0 424.0l0.5 1.1M171.8 424.8l-1.1 0.5M171.1 418.7l-1.2 0.2M163.5 422.8l0.7 1.0M168.8 423.0l1.0 0.6M171.6 420.6l-1.1 0.6M172.3 423.1l0.7 1.0M167.9 423.2l-0.6 1.1M175.0 422.9l-1.2 0.3M167.2 423.1l0.8 0.9M169.1 421.5l0.7 1.0M171.4 437.1l-0.3 1.2M165.4 440.6l1.2 0.3M169.4 438.9l-0.0 1.2M170.2 437.6l-0.3 1.2M165.1 437.8l0.3 1.2M165.2 433.5l-0.8 0.9M171.5 438.0l-0.6 1.0M174.4 435.2l-0.3 1.2M171.7 439.5l-1.0 0.7M164.4 434.9l1.1 0.5M170.0 436.6l1.0 0.6M166.5 442.8l0.8 0.9M169.7 437.2l1.0 0.6M165.8 437.3l-1.1 0.4M175.2 440.0l-1.1 0.5M172.3 439.6l-1.1 0.4M168.1 436.9l0.4 1.1M170.4 439.5l-1.1 0.5M170.0 449.0l-1.2 0.2M171.0 445.9l-0.9 0.8M170.1 453.9l-1.1 0.6M168.0 445.2l-0.7 1.0M166.8 450.8l1.2 0.0M169.3 450.0l0.6 1.0M167.5 452.3l0.8 0.9M171.5 446.5l-0.1 1.2M169.1 447.0l-0.2 1.2M171.4 448.8l-1.2 0.3M168.0 448.9l0.8 0.9M169.5 452.0l-1.2 0.1M178.0 452.4l1.1 0.6M186.8 449.7l-0.9 0.8M185.0 453.0l0.7 1.0M183.8 449.0l-0.2 1.2M183.8 451.7l-0.4 1.1M185.6 450.4l1.2 0.2M181.0 449.3l-0.3 1.2M177.7 449.0l-0.6 1.1M188.0 451.8l0.8 0.9M179.0 450.4l1.1 0.3M177.2 450.1l-0.4 1.1M180.8 452.2l0.8 0.9M183.9 452.0l1.0 0.6M183.8 452.2l0.9 0.8M181.6 451.7l-0.3 1.2M182.3 450.9l0.1 1.2" stroke="#4cb443" stroke-width="1.24" stroke-opacity="0.88" stroke-linecap="round" fill="none"/>
<path d="M185.7 419.6l0.2 1.2M184.3 421.2l0.9 0.8M184.5 421.3l0.1 1.2M184.8 422.7l1.0 0.7M184.7 422.4l0.5 1.1M186.2 421.9l0.5 1.1M184.2 420.8l0.2 1.2M186.0 420.9l0.6 1.0M186.7 419.6l1.0 0.6M187.6 420.9l-1.0 0.6M184.8 419.0l-0.1 1.2M185.3 420.3l0.4 1.1M190.0 441.6l-0.5 1.1M184.4 441.4l1.1 0.4M182.3 439.2l0.7 1.0M187.5 438.7l0.5 1.1M181.7 438.5l0.1 1.2M187.1 434.5l-1.1 0.5M180.2 440.2l0.2 1.2M180.3 439.0l0.3 1.2M187.7 443.6l-0.4 1.1M182.1 446.6l-0.9 0.8M180.3 439.7l0.6 1.0M177.6 440.3l-0.6 1.0M185.3 441.4l0.5 1.1M177.7 440.7l1.2 0.1M180.9 439.8l1.2 0.3M184.4 440.1l1.2 0.2M179.4 437.1l0.4 1.1M185.1 441.9l0.9 0.8M182.1 436.4l-0.2 1.2M184.2 441.5l-0.8 0.9M181.7 442.5l0.2 1.2M187.8 439.6l-0.8 0.9M184.2 438.3l0.7 1.0M187.7 441.7l1.0 0.7" stroke="#e8898c" stroke-width="1.24" stroke-opacity="0.88" stroke-linecap="round" fill="none"/>
<path d="M197.0 417.7l-1.1 0.4M194.8 413.9l1.2 0.3M201.7 421.3l-1.2 0.2M196.8 416.7l0.7 1.0M191.8 412.2l0.7 0.9M197.8 421.1l1.2 0.1M198.5 420.9l0.7 1.0M191.5 412.3l1.2 0.0M196.4 414.6l0.5 1.1M197.4 412.7l-0.8 0.9M198.6 420.2l-0.1 1.2M196.2 413.6l0.9 0.8M190.3 413.4l-1.2 0.1M200.4 419.7l-1.1 0.4M198.3 415.7l-0.4 1.1M191.1 412.6l0.8 0.9M194.6 415.2l0.4 1.1M195.9 418.6l1.2 0.3M196.4 417.2l-0.8 0.9M201.0 416.4l-0.5 1.1M196.1 420.6l-0.7 1.0M199.8 416.2l-0.6 1.0M192.4 414.1l0.1 1.2M200.3 415.4l0.0 1.2M192.5 412.3l0.5 1.1M188.5 447.9l0.7 0.9M189.2 425.7l1.2 0.3M188.6 417.4l-0.4 1.1M194.1 447.1l-0.2 1.2M190.8 442.7l-1.2 0.3M191.9 449.8l0.3 1.2M195.3 442.0l-1.2 0.0M197.2 450.4l1.2 0.3M198.3 455.3l0.1 1.2M192.7 453.2l0.0 1.2M190.1 446.8l-0.3 1.2M194.3 430.4l-1.1 0.5M189.9 437.5l-0.2 1.2M194.9 430.8l-0.6 1.0M192.7 423.3l-1.1 0.5M199.2 437.5l-1.2 0.1M195.0 432.5l1.1 0.4M193.2 445.4l-1.0 0.6M184.1 429.1l0.4 1.1M187.7 429.9l-0.8 0.9M196.3 424.6l-1.0 0.7M190.3 452.7l1.1 0.4M191.6 433.4l1.2 0.2M192.5 426.6l-1.1 0.4M192.2 448.1l-0.1 1.2M191.7 448.6l-1.0 0.6M194.4 421.8l1.1 0.5M198.8 437.8l-0.1 1.2M194.6 426.4l-0.2 1.2M191.5 436.2l1.1 0.4M196.8 437.1l-0.5 1.1M191.1 428.4l0.8 0.9M188.0 426.7l-0.4 1.1M193.1 443.2l1.1 0.6M191.9 445.6l-0.7 1.0M191.9 429.8l-0.3 1.2M193.9 439.5l-0.8 0.9M194.2 439.5l-0.5 1.1M193.6 435.5l-0.9 0.7M194.6 448.8l1.2 0.0M193.4 442.8l1.1 0.4M189.0 441.6l0.4 1.1M190.4 456.4l0.3 1.2M195.8 450.3l0.0 1.2M193.4 423.1l-0.4 1.1M191.8 420.4l0.6 1.0M196.0 447.9l0.7 0.9M188.9 431.1l0.8 0.9M190.4 438.8l0.6 1.0M193.4 443.5l-0.0 1.2M194.5 451.1l-1.2 0.3M193.4 440.4l1.0 0.7M190.3 438.8l-1.0 0.7M191.7 432.2l-0.7 1.0M188.9 428.3l0.3 1.2M200.6 428.0l-0.4 1.1M214.8 438.1l-0.6 1.0M209.9 433.3l-1.1 0.6M210.4 430.7l1.2 0.2M203.7 424.8l-0.3 1.2M207.1 434.6l0.2 1.2M212.3 436.5l0.8 0.9M210.2 436.5l-1.1 0.5M202.1 427.1l0.8 0.9M213.7 431.5l-0.6 1.0M216.3 429.7l-0.9 0.8M203.8 428.1l-1.0 0.6M214.0 431.2l1.1 0.5M209.5 428.8l-0.4 1.1M204.5 422.7l1.0 0.7M206.0 422.5l-1.0 0.7M207.8 432.0l1.2 0.0M210.2 432.1l0.3 1.2M211.6 428.2l-1.1 0.4M203.0 430.1l1.2 0.1M206.3 430.4l0.8 0.9M209.4 430.8l-0.6 1.0M211.6 438.7l0.9 0.7M209.7 427.3l-1.2 0.1M209.1 427.5l0.7 1.0M208.9 428.6l0.0 1.2M207.8 431.1l0.3 1.2M214.6 430.7l-0.3 1.1M209.2 431.7l1.1 0.4M207.8 424.3l-0.2 1.2M209.1 428.3l-0.2 1.2M205.8 432.3l1.1 0.5M209.6 427.4l0.9 0.8M205.0 424.6l1.2 0.2M207.9 425.6l0.1 1.2M207.3 425.5l0.9 0.8M202.2 425.5l-0.1 1.2M211.6 425.9l-0.4 1.1M207.1 422.3l-0.3 1.2M202.1 423.3l0.9 0.8M204.8 445.0l-0.3 1.2M207.9 453.0l-0.6 1.1M203.5 443.6l-0.2 1.2M202.5 445.3l1.2 0.0M207.5 444.5l1.2 0.0M205.2 443.9l0.7 0.9M211.0 447.6l-0.4 1.1M202.7 446.7l0.8 0.9M211.2 446.8l-0.8 0.9M217.5 448.3l-1.1 0.4M212.2 439.6l-0.8 0.9M208.0 451.0l1.2 0.3M210.0 453.7l-0.4 1.1M210.4 444.5l-1.0 0.6M204.7 446.2l-1.1 0.4M208.5 450.1l1.2 0.2M211.8 451.9l-0.3 1.2M209.5 445.5l0.9 0.8M204.4 450.1l-0.1 1.2M207.5 446.0l0.4 1.1M213.4 447.5l-1.1 0.5M205.0 449.3l1.1 0.4M209.6 444.7l1.0 0.6M211.7 450.5l-0.8 0.9M206.6 448.8l-1.0 0.7M207.5 444.9l0.8 0.9M204.4 450.3l-1.2 0.0M208.1 447.4l-0.5 1.1M211.3 452.0l-0.8 0.9M213.3 450.5l1.2 0.2M216.5 442.1l-0.8 0.9M207.1 450.3l-0.2 1.2M213.9 452.3l1.2 0.3M209.1 442.8l1.0 0.6M206.1 442.8l0.8 0.9M216.3 450.8l-1.2 0.0M206.3 450.2l0.7 1.0M215.4 443.1l-0.3 1.2M216.0 448.3l0.8 0.9M203.6 445.0l0.3 1.2M207.9 442.1l0.1 1.2M211.7 446.0l1.2 0.1M216.6 446.3l1.2 0.2M211.5 452.3l-0.2 1.2M216.0 449.0l1.0 0.6M214.6 443.0l0.3 1.2M207.0 444.9l1.2 0.1M210.8 451.5l-0.1 1.2M212.4 449.5l0.8 0.9M206.5 449.5l-0.5 1.1M208.9 451.5l-0.8 0.8M212.6 442.3l-1.2 0.2M209.3 449.3l-1.1 0.4M212.8 442.5l-0.4 1.1M206.1 450.0l-0.5 1.1M204.7 447.4l-1.2 0.1M214.6 442.2l0.0 1.2M215.2 449.6l0.0 1.2M213.8 451.0l0.5 1.1M209.7 452.6l0.6 1.0M204.9 447.7l1.2 0.3M214.0 443.7l-0.9 0.8M211.5 441.9l-0.4 1.1M209.8 452.9l-1.2 0.0M208.7 446.6l0.9 0.8M207.3 449.3l0.9 0.8M210.0 445.0l0.8 0.9M210.5 448.4l0.7 1.0M216.4 443.9l1.1 0.6M205.9 442.8l-0.6 1.1M206.4 447.0l0.5 1.1M204.0 442.4l1.2 0.2M209.3 439.4l0.6 1.0M208.7 452.2l-0.2 1.2M206.4 448.3l1.2 0.2M213.3 449.4l-0.5 1.1M218.0 447.1l-1.1 0.4M205.9 449.9l-0.3 1.2M205.3 445.6l-0.8 0.9M206.4 448.5l1.2 0.2" stroke="#2a4399" stroke-width="1.24" stroke-opacity="0.88" stroke-linecap="round" fill="none"/>
</svg></body></html>
